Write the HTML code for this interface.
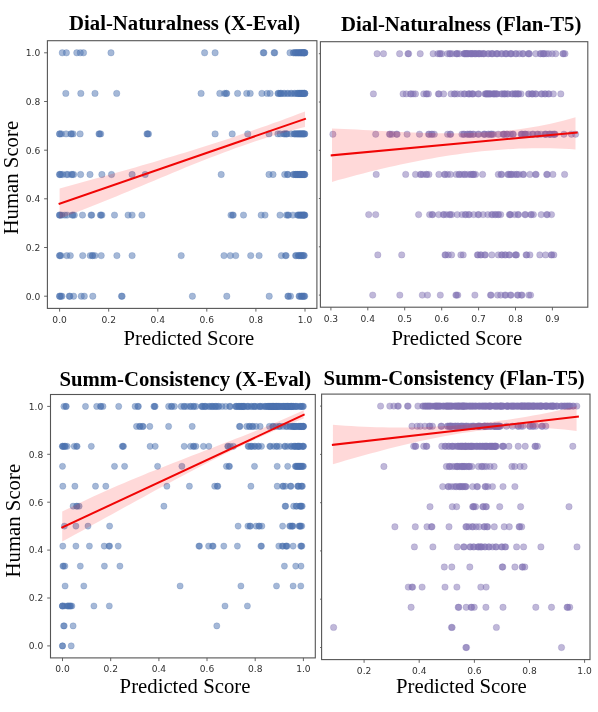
<!DOCTYPE html>
<html><head><meta charset="utf-8"><title>Scatter plots</title>
<style>html,body{margin:0;padding:0;background:#fff}svg{display:block}.t{font-family:"Liberation Serif",serif;font-weight:bold;font-size:20.75px;fill:#000}.l{font-family:"Liberation Serif",serif;font-size:20.75px;fill:#000}.k{font-family:"DejaVu Sans","Liberation Sans",sans-serif;font-size:9.1px;fill:#303030}</style></head>
<body>
<svg width="598" height="712" viewBox="0 0 598 712">
<rect width="598" height="712" fill="#fff"/>
<g>
<g fill="#4c72b0" fill-opacity="0.5" stroke="#4c72b0" stroke-opacity="0.5" stroke-width="0.5">
<circle cx="59.6" cy="296.2" r="3.20"/><circle cx="59.8" cy="296.2" r="3.20"/><circle cx="60.9" cy="296.2" r="3.20"/><circle cx="61.9" cy="296.2" r="3.20"/><circle cx="69.3" cy="296.2" r="3.20"/><circle cx="69.9" cy="296.2" r="3.20"/><circle cx="73.6" cy="296.2" r="3.20"/><circle cx="81.3" cy="296.2" r="3.20"/><circle cx="84.3" cy="296.2" r="3.20"/><circle cx="92.8" cy="296.2" r="3.20"/><circle cx="121.5" cy="296.2" r="3.20"/><circle cx="122.1" cy="296.2" r="3.20"/><circle cx="192.4" cy="296.2" r="3.20"/><circle cx="226.8" cy="296.2" r="3.20"/><circle cx="269.2" cy="296.2" r="3.20"/><circle cx="287.9" cy="296.2" r="3.20"/><circle cx="288.5" cy="296.2" r="3.20"/><circle cx="290.5" cy="296.2" r="3.20"/><circle cx="299.1" cy="296.2" r="3.20"/><circle cx="299.7" cy="296.2" r="3.20"/><circle cx="301.2" cy="296.2" r="3.20"/><circle cx="301.8" cy="296.2" r="3.20"/><circle cx="302.4" cy="296.2" r="3.20"/><circle cx="303.5" cy="296.2" r="3.20"/><circle cx="304.1" cy="296.2" r="3.20"/><circle cx="304.7" cy="296.2" r="3.20"/>
<circle cx="59.6" cy="255.6" r="3.20"/><circle cx="59.8" cy="255.6" r="3.20"/><circle cx="60.9" cy="255.6" r="3.20"/><circle cx="66.8" cy="255.6" r="3.20"/><circle cx="70.3" cy="255.6" r="3.20"/><circle cx="82.7" cy="255.6" r="3.20"/><circle cx="90.2" cy="255.6" r="3.20"/><circle cx="92.2" cy="255.6" r="3.20"/><circle cx="92.8" cy="255.6" r="3.20"/><circle cx="94.9" cy="255.6" r="3.20"/><circle cx="101.2" cy="255.6" r="3.20"/><circle cx="116.9" cy="255.6" r="3.20"/><circle cx="132.1" cy="255.6" r="3.20"/><circle cx="181.2" cy="255.6" r="3.20"/><circle cx="224.0" cy="255.6" r="3.20"/><circle cx="230.3" cy="255.6" r="3.20"/><circle cx="235.7" cy="255.6" r="3.20"/><circle cx="250.7" cy="255.6" r="3.20"/><circle cx="259.1" cy="255.6" r="3.20"/><circle cx="281.4" cy="255.6" r="3.20"/><circle cx="285.5" cy="255.6" r="3.20"/><circle cx="286.1" cy="255.6" r="3.20"/><circle cx="295.6" cy="255.6" r="3.20"/><circle cx="296.2" cy="255.6" r="3.20"/><circle cx="298.3" cy="255.6" r="3.20"/><circle cx="298.9" cy="255.6" r="3.20"/><circle cx="299.5" cy="255.6" r="3.20"/><circle cx="300.7" cy="255.6" r="3.20"/><circle cx="301.3" cy="255.6" r="3.20"/><circle cx="301.9" cy="255.6" r="3.20"/><circle cx="303.0" cy="255.6" r="3.20"/><circle cx="303.6" cy="255.6" r="3.20"/><circle cx="304.2" cy="255.6" r="3.20"/>
<circle cx="59.6" cy="215.1" r="3.20"/><circle cx="59.6" cy="215.1" r="3.20"/><circle cx="60.5" cy="215.1" r="3.20"/><circle cx="61.9" cy="215.1" r="3.20"/><circle cx="64.9" cy="215.1" r="3.20"/><circle cx="67.2" cy="215.1" r="3.20"/><circle cx="72.3" cy="215.1" r="3.20"/><circle cx="72.9" cy="215.1" r="3.20"/><circle cx="74.3" cy="215.1" r="3.20"/><circle cx="82.5" cy="215.1" r="3.20"/><circle cx="91.1" cy="215.1" r="3.20"/><circle cx="91.7" cy="215.1" r="3.20"/><circle cx="100.4" cy="215.1" r="3.20"/><circle cx="101.0" cy="215.1" r="3.20"/><circle cx="101.9" cy="215.1" r="3.20"/><circle cx="114.5" cy="215.1" r="3.20"/><circle cx="128.1" cy="215.1" r="3.20"/><circle cx="132.1" cy="215.1" r="3.20"/><circle cx="141.9" cy="215.1" r="3.20"/><circle cx="231.0" cy="215.1" r="3.20"/><circle cx="232.6" cy="215.1" r="3.20"/><circle cx="233.2" cy="215.1" r="3.20"/><circle cx="243.5" cy="215.1" r="3.20"/><circle cx="261.2" cy="215.1" r="3.20"/><circle cx="265.0" cy="215.1" r="3.20"/><circle cx="280.0" cy="215.1" r="3.20"/><circle cx="286.5" cy="215.1" r="3.20"/><circle cx="287.9" cy="215.1" r="3.20"/><circle cx="288.5" cy="215.1" r="3.20"/><circle cx="292.9" cy="215.1" r="3.20"/><circle cx="297.6" cy="215.1" r="3.20"/><circle cx="298.2" cy="215.1" r="3.20"/><circle cx="298.8" cy="215.1" r="3.20"/><circle cx="299.7" cy="215.1" r="3.20"/><circle cx="300.3" cy="215.1" r="3.20"/><circle cx="300.9" cy="215.1" r="3.20"/><circle cx="301.5" cy="215.1" r="3.20"/><circle cx="302.0" cy="215.1" r="3.20"/><circle cx="302.6" cy="215.1" r="3.20"/><circle cx="303.2" cy="215.1" r="3.20"/><circle cx="303.8" cy="215.1" r="3.20"/><circle cx="304.0" cy="215.1" r="3.20"/><circle cx="304.6" cy="215.1" r="3.20"/><circle cx="304.8" cy="215.1" r="3.20"/>
<circle cx="59.6" cy="174.5" r="3.20"/><circle cx="59.8" cy="174.5" r="3.20"/><circle cx="60.9" cy="174.5" r="3.20"/><circle cx="62.6" cy="174.5" r="3.20"/><circle cx="66.5" cy="174.5" r="3.20"/><circle cx="67.9" cy="174.5" r="3.20"/><circle cx="71.6" cy="174.5" r="3.20"/><circle cx="72.2" cy="174.5" r="3.20"/><circle cx="73.6" cy="174.5" r="3.20"/><circle cx="80.6" cy="174.5" r="3.20"/><circle cx="90.0" cy="174.5" r="3.20"/><circle cx="101.9" cy="174.5" r="3.20"/><circle cx="111.5" cy="174.5" r="3.20"/><circle cx="132.1" cy="174.5" r="3.20"/><circle cx="145.2" cy="174.5" r="3.20"/><circle cx="221.2" cy="174.5" r="3.20"/><circle cx="269.0" cy="174.5" r="3.20"/><circle cx="273.0" cy="174.5" r="3.20"/><circle cx="284.7" cy="174.5" r="3.20"/><circle cx="287.4" cy="174.5" r="3.20"/><circle cx="288.0" cy="174.5" r="3.20"/><circle cx="293.3" cy="174.5" r="3.20"/><circle cx="293.9" cy="174.5" r="3.20"/><circle cx="295.3" cy="174.5" r="3.20"/><circle cx="295.9" cy="174.5" r="3.20"/><circle cx="296.5" cy="174.5" r="3.20"/><circle cx="297.3" cy="174.5" r="3.20"/><circle cx="297.9" cy="174.5" r="3.20"/><circle cx="298.5" cy="174.5" r="3.20"/><circle cx="299.1" cy="174.5" r="3.20"/><circle cx="299.7" cy="174.5" r="3.20"/><circle cx="300.3" cy="174.5" r="3.20"/><circle cx="300.9" cy="174.5" r="3.20"/><circle cx="301.5" cy="174.5" r="3.20"/><circle cx="302.0" cy="174.5" r="3.20"/><circle cx="302.6" cy="174.5" r="3.20"/><circle cx="303.2" cy="174.5" r="3.20"/><circle cx="303.8" cy="174.5" r="3.20"/><circle cx="304.0" cy="174.5" r="3.20"/><circle cx="304.6" cy="174.5" r="3.20"/><circle cx="304.8" cy="174.5" r="3.20"/>
<circle cx="59.6" cy="133.9" r="3.20"/><circle cx="59.8" cy="133.9" r="3.20"/><circle cx="61.4" cy="133.9" r="3.20"/><circle cx="66.1" cy="133.9" r="3.20"/><circle cx="70.9" cy="133.9" r="3.20"/><circle cx="71.5" cy="133.9" r="3.20"/><circle cx="73.1" cy="133.9" r="3.20"/><circle cx="80.1" cy="133.9" r="3.20"/><circle cx="99.0" cy="133.9" r="3.20"/><circle cx="99.6" cy="133.9" r="3.20"/><circle cx="100.7" cy="133.9" r="3.20"/><circle cx="147.0" cy="133.9" r="3.20"/><circle cx="147.6" cy="133.9" r="3.20"/><circle cx="148.5" cy="133.9" r="3.20"/><circle cx="215.1" cy="133.9" r="3.20"/><circle cx="232.2" cy="133.9" r="3.20"/><circle cx="247.7" cy="133.9" r="3.20"/><circle cx="269.0" cy="133.9" r="3.20"/><circle cx="277.9" cy="133.9" r="3.20"/><circle cx="280.2" cy="133.9" r="3.20"/><circle cx="283.9" cy="133.9" r="3.20"/><circle cx="284.5" cy="133.9" r="3.20"/><circle cx="285.9" cy="133.9" r="3.20"/><circle cx="286.5" cy="133.9" r="3.20"/><circle cx="287.1" cy="133.9" r="3.20"/><circle cx="291.2" cy="133.9" r="3.20"/><circle cx="294.1" cy="133.9" r="3.20"/><circle cx="294.7" cy="133.9" r="3.20"/><circle cx="295.3" cy="133.9" r="3.20"/><circle cx="296.5" cy="133.9" r="3.20"/><circle cx="297.1" cy="133.9" r="3.20"/><circle cx="297.7" cy="133.9" r="3.20"/><circle cx="298.5" cy="133.9" r="3.20"/><circle cx="299.1" cy="133.9" r="3.20"/><circle cx="299.7" cy="133.9" r="3.20"/><circle cx="300.3" cy="133.9" r="3.20"/><circle cx="300.9" cy="133.9" r="3.20"/><circle cx="301.5" cy="133.9" r="3.20"/><circle cx="302.1" cy="133.9" r="3.20"/><circle cx="302.7" cy="133.9" r="3.20"/><circle cx="303.2" cy="133.9" r="3.20"/><circle cx="303.8" cy="133.9" r="3.20"/><circle cx="304.4" cy="133.9" r="3.20"/><circle cx="304.8" cy="133.9" r="3.20"/>
<circle cx="65.8" cy="93.4" r="3.20"/><circle cx="80.8" cy="93.4" r="3.20"/><circle cx="95.0" cy="93.4" r="3.20"/><circle cx="116.7" cy="93.4" r="3.20"/><circle cx="201.1" cy="93.4" r="3.20"/><circle cx="219.8" cy="93.4" r="3.20"/><circle cx="224.5" cy="93.4" r="3.20"/><circle cx="226.1" cy="93.4" r="3.20"/><circle cx="226.7" cy="93.4" r="3.20"/><circle cx="237.6" cy="93.4" r="3.20"/><circle cx="246.7" cy="93.4" r="3.20"/><circle cx="250.2" cy="93.4" r="3.20"/><circle cx="261.9" cy="93.4" r="3.20"/><circle cx="267.1" cy="93.4" r="3.20"/><circle cx="270.1" cy="93.4" r="3.20"/><circle cx="278.0" cy="93.4" r="3.20"/><circle cx="278.6" cy="93.4" r="3.20"/><circle cx="280.1" cy="93.4" r="3.20"/><circle cx="280.7" cy="93.4" r="3.20"/><circle cx="281.3" cy="93.4" r="3.20"/><circle cx="283.9" cy="93.4" r="3.20"/><circle cx="284.5" cy="93.4" r="3.20"/><circle cx="287.4" cy="93.4" r="3.20"/><circle cx="288.0" cy="93.4" r="3.20"/><circle cx="290.9" cy="93.4" r="3.20"/><circle cx="291.5" cy="93.4" r="3.20"/><circle cx="294.4" cy="93.4" r="3.20"/><circle cx="295.0" cy="93.4" r="3.20"/><circle cx="297.2" cy="93.4" r="3.20"/><circle cx="297.8" cy="93.4" r="3.20"/><circle cx="298.4" cy="93.4" r="3.20"/><circle cx="299.2" cy="93.4" r="3.20"/><circle cx="299.8" cy="93.4" r="3.20"/><circle cx="300.4" cy="93.4" r="3.20"/><circle cx="301.0" cy="93.4" r="3.20"/><circle cx="301.6" cy="93.4" r="3.20"/><circle cx="302.2" cy="93.4" r="3.20"/><circle cx="302.8" cy="93.4" r="3.20"/><circle cx="303.4" cy="93.4" r="3.20"/><circle cx="303.9" cy="93.4" r="3.20"/><circle cx="304.5" cy="93.4" r="3.20"/><circle cx="304.8" cy="93.4" r="3.20"/><circle cx="304.8" cy="93.4" r="3.20"/>
<circle cx="62.3" cy="52.8" r="3.20"/><circle cx="66.4" cy="52.8" r="3.20"/><circle cx="76.8" cy="52.8" r="3.20"/><circle cx="80.3" cy="52.8" r="3.20"/><circle cx="83.5" cy="52.8" r="3.20"/><circle cx="111.0" cy="52.8" r="3.20"/><circle cx="204.6" cy="52.8" r="3.20"/><circle cx="215.1" cy="52.8" r="3.20"/><circle cx="263.3" cy="52.8" r="3.20"/><circle cx="263.9" cy="52.8" r="3.20"/><circle cx="274.1" cy="52.8" r="3.20"/><circle cx="274.7" cy="52.8" r="3.20"/><circle cx="290.0" cy="52.8" r="3.20"/><circle cx="293.3" cy="52.8" r="3.20"/><circle cx="293.9" cy="52.8" r="3.20"/><circle cx="295.3" cy="52.8" r="3.20"/><circle cx="295.9" cy="52.8" r="3.20"/><circle cx="296.5" cy="52.8" r="3.20"/><circle cx="297.6" cy="52.8" r="3.20"/><circle cx="298.2" cy="52.8" r="3.20"/><circle cx="298.8" cy="52.8" r="3.20"/><circle cx="299.7" cy="52.8" r="3.20"/><circle cx="300.3" cy="52.8" r="3.20"/><circle cx="300.9" cy="52.8" r="3.20"/><circle cx="301.5" cy="52.8" r="3.20"/><circle cx="302.0" cy="52.8" r="3.20"/><circle cx="302.6" cy="52.8" r="3.20"/><circle cx="303.2" cy="52.8" r="3.20"/><circle cx="303.8" cy="52.8" r="3.20"/><circle cx="303.9" cy="52.8" r="3.20"/><circle cx="304.5" cy="52.8" r="3.20"/><circle cx="304.8" cy="52.8" r="3.20"/><circle cx="304.8" cy="52.8" r="3.20"/>
</g>
<polygon fill="#ff0000" fill-opacity="0.15" points="59.6,188.4 65.9,186.7 72.2,185.0 78.5,183.2 84.8,181.5 91.1,179.8 97.4,178.0 103.6,176.3 109.9,174.5 116.2,172.7 122.5,170.9 128.8,169.2 135.1,167.4 141.4,165.5 147.7,163.7 154.0,161.9 160.3,160.0 166.6,158.1 172.9,156.2 179.2,154.3 185.4,152.4 191.7,150.5 198.0,148.5 204.3,146.5 210.6,144.5 216.9,142.5 223.2,140.4 229.5,138.4 235.8,136.3 242.1,134.1 248.4,132.0 254.7,129.8 261.0,127.6 267.2,125.4 273.5,123.1 279.8,120.9 286.1,118.5 292.4,116.2 298.7,113.8 305.0,111.4 305.0,127.1 298.7,128.6 292.4,130.2 286.1,131.9 279.8,133.7 273.5,135.6 267.2,137.5 261.0,139.5 254.7,141.6 248.4,143.7 242.1,145.9 235.8,148.1 229.5,150.4 223.2,152.8 216.9,155.2 210.6,157.6 204.3,160.1 198.0,162.6 191.7,165.1 185.4,167.6 179.2,170.2 172.9,172.8 166.6,175.4 160.3,178.0 154.0,180.7 147.7,183.3 141.4,185.9 135.1,188.5 128.8,191.2 122.5,193.8 116.2,196.4 109.9,199.0 103.6,201.5 97.4,204.0 91.1,206.5 84.8,209.0 78.5,211.4 72.2,213.8 65.9,216.2 59.6,218.5"/>
<line x1="59.6" y1="203.7" x2="305.0" y2="118.9" stroke="#f00505" stroke-width="2" stroke-linecap="square"/>
<rect x="47.4" y="40.7" width="269.5" height="267.7" fill="none" stroke="#555555" stroke-width="1.1"/>
<g stroke="#555555" stroke-width="0.9">
<line x1="59.6" y1="308.4" x2="59.6" y2="311.6"/><line x1="108.7" y1="308.4" x2="108.7" y2="311.6"/><line x1="157.8" y1="308.4" x2="157.8" y2="311.6"/><line x1="206.8" y1="308.4" x2="206.8" y2="311.6"/><line x1="255.9" y1="308.4" x2="255.9" y2="311.6"/><line x1="305.0" y1="308.4" x2="305.0" y2="311.6"/><line x1="44.1" y1="296.2" x2="47.4" y2="296.2"/><line x1="44.1" y1="247.5" x2="47.4" y2="247.5"/><line x1="44.1" y1="198.8" x2="47.4" y2="198.8"/><line x1="44.1" y1="150.2" x2="47.4" y2="150.2"/><line x1="44.1" y1="101.5" x2="47.4" y2="101.5"/><line x1="44.1" y1="52.8" x2="47.4" y2="52.8"/>
</g>
<g class="k" text-anchor="middle">
<text x="59.6" y="322.8">0.0</text><text x="108.7" y="322.8">0.2</text><text x="157.8" y="322.8">0.4</text><text x="206.8" y="322.8">0.6</text><text x="255.9" y="322.8">0.8</text><text x="305.0" y="322.8">1.0</text>
</g>
<g class="k" text-anchor="end">
<text x="40.2" y="299.5">0.0</text><text x="40.2" y="250.8">0.2</text><text x="40.2" y="202.1">0.4</text><text x="40.2" y="153.5">0.6</text><text x="40.2" y="104.8">0.8</text><text x="40.2" y="56.1">1.0</text>
</g>
<text class="t" x="69.0" y="30.1">Dial-Naturalness (X-Eval)</text>
<text class="l" x="123.5" y="345.2">Predicted Score</text>
</g>
<text class="l" transform="translate(18.3,234.4) rotate(-90)">Human Score</text>
<g>
<g fill="#8172b3" fill-opacity="0.5" stroke="#8172b3" stroke-opacity="0.5" stroke-width="0.5">
<circle cx="372.7" cy="295.1" r="3.20"/><circle cx="399.8" cy="295.1" r="3.20"/><circle cx="422.3" cy="295.1" r="3.20"/><circle cx="427.5" cy="295.1" r="3.20"/><circle cx="440.3" cy="295.1" r="3.20"/><circle cx="455.9" cy="295.1" r="3.20"/><circle cx="456.5" cy="295.1" r="3.20"/><circle cx="457.8" cy="295.1" r="3.20"/><circle cx="474.9" cy="295.1" r="3.20"/><circle cx="490.5" cy="295.1" r="3.20"/><circle cx="491.1" cy="295.1" r="3.20"/><circle cx="497.6" cy="295.1" r="3.20"/><circle cx="500.7" cy="295.1" r="3.20"/><circle cx="505.0" cy="295.1" r="3.20"/><circle cx="505.6" cy="295.1" r="3.20"/><circle cx="510.4" cy="295.1" r="3.20"/><circle cx="511.0" cy="295.1" r="3.20"/><circle cx="517.4" cy="295.1" r="3.20"/><circle cx="518.0" cy="295.1" r="3.20"/><circle cx="521.4" cy="295.1" r="3.20"/><circle cx="522.0" cy="295.1" r="3.20"/><circle cx="528.8" cy="295.1" r="3.20"/><circle cx="530.6" cy="295.1" r="3.20"/>
<circle cx="377.8" cy="254.9" r="3.20"/><circle cx="401.7" cy="254.9" r="3.20"/><circle cx="445.0" cy="254.9" r="3.20"/><circle cx="445.6" cy="254.9" r="3.20"/><circle cx="448.3" cy="254.9" r="3.20"/><circle cx="451.6" cy="254.9" r="3.20"/><circle cx="460.9" cy="254.9" r="3.20"/><circle cx="463.2" cy="254.9" r="3.20"/><circle cx="477.4" cy="254.9" r="3.20"/><circle cx="478.0" cy="254.9" r="3.20"/><circle cx="480.5" cy="254.9" r="3.20"/><circle cx="481.1" cy="254.9" r="3.20"/><circle cx="484.7" cy="254.9" r="3.20"/><circle cx="485.3" cy="254.9" r="3.20"/><circle cx="491.8" cy="254.9" r="3.20"/><circle cx="498.3" cy="254.9" r="3.20"/><circle cx="501.5" cy="254.9" r="3.20"/><circle cx="502.1" cy="254.9" r="3.20"/><circle cx="505.0" cy="254.9" r="3.20"/><circle cx="505.6" cy="254.9" r="3.20"/><circle cx="509.0" cy="254.9" r="3.20"/><circle cx="509.6" cy="254.9" r="3.20"/><circle cx="515.3" cy="254.9" r="3.20"/><circle cx="515.9" cy="254.9" r="3.20"/><circle cx="516.5" cy="254.9" r="3.20"/><circle cx="526.1" cy="254.9" r="3.20"/><circle cx="526.7" cy="254.9" r="3.20"/><circle cx="529.9" cy="254.9" r="3.20"/><circle cx="539.8" cy="254.9" r="3.20"/><circle cx="545.6" cy="254.9" r="3.20"/><circle cx="551.2" cy="254.9" r="3.20"/><circle cx="551.8" cy="254.9" r="3.20"/><circle cx="553.8" cy="254.9" r="3.20"/>
<circle cx="368.7" cy="214.6" r="3.20"/><circle cx="375.7" cy="214.6" r="3.20"/><circle cx="418.6" cy="214.6" r="3.20"/><circle cx="429.6" cy="214.6" r="3.20"/><circle cx="432.1" cy="214.6" r="3.20"/><circle cx="432.7" cy="214.6" r="3.20"/><circle cx="438.7" cy="214.6" r="3.20"/><circle cx="443.3" cy="214.6" r="3.20"/><circle cx="443.9" cy="214.6" r="3.20"/><circle cx="446.4" cy="214.6" r="3.20"/><circle cx="449.6" cy="214.6" r="3.20"/><circle cx="450.2" cy="214.6" r="3.20"/><circle cx="451.8" cy="214.6" r="3.20"/><circle cx="457.3" cy="214.6" r="3.20"/><circle cx="462.0" cy="214.6" r="3.20"/><circle cx="465.2" cy="214.6" r="3.20"/><circle cx="465.8" cy="214.6" r="3.20"/><circle cx="468.7" cy="214.6" r="3.20"/><circle cx="469.3" cy="214.6" r="3.20"/><circle cx="473.7" cy="214.6" r="3.20"/><circle cx="478.1" cy="214.6" r="3.20"/><circle cx="478.7" cy="214.6" r="3.20"/><circle cx="483.1" cy="214.6" r="3.20"/><circle cx="487.8" cy="214.6" r="3.20"/><circle cx="491.7" cy="214.6" r="3.20"/><circle cx="492.3" cy="214.6" r="3.20"/><circle cx="495.0" cy="214.6" r="3.20"/><circle cx="495.6" cy="214.6" r="3.20"/><circle cx="498.0" cy="214.6" r="3.20"/><circle cx="498.6" cy="214.6" r="3.20"/><circle cx="500.7" cy="214.6" r="3.20"/><circle cx="509.4" cy="214.6" r="3.20"/><circle cx="510.0" cy="214.6" r="3.20"/><circle cx="510.6" cy="214.6" r="3.20"/><circle cx="514.7" cy="214.6" r="3.20"/><circle cx="517.9" cy="214.6" r="3.20"/><circle cx="518.5" cy="214.6" r="3.20"/><circle cx="524.9" cy="214.6" r="3.20"/><circle cx="525.5" cy="214.6" r="3.20"/><circle cx="530.8" cy="214.6" r="3.20"/><circle cx="531.4" cy="214.6" r="3.20"/><circle cx="533.4" cy="214.6" r="3.20"/><circle cx="541.2" cy="214.6" r="3.20"/><circle cx="546.7" cy="214.6" r="3.20"/><circle cx="547.3" cy="214.6" r="3.20"/><circle cx="551.5" cy="214.6" r="3.20"/>
<circle cx="376.2" cy="174.4" r="3.20"/><circle cx="405.7" cy="174.4" r="3.20"/><circle cx="415.5" cy="174.4" r="3.20"/><circle cx="420.4" cy="174.4" r="3.20"/><circle cx="421.0" cy="174.4" r="3.20"/><circle cx="423.0" cy="174.4" r="3.20"/><circle cx="426.2" cy="174.4" r="3.20"/><circle cx="426.8" cy="174.4" r="3.20"/><circle cx="428.9" cy="174.4" r="3.20"/><circle cx="438.9" cy="174.4" r="3.20"/><circle cx="444.5" cy="174.4" r="3.20"/><circle cx="445.1" cy="174.4" r="3.20"/><circle cx="447.6" cy="174.4" r="3.20"/><circle cx="450.4" cy="174.4" r="3.20"/><circle cx="456.2" cy="174.4" r="3.20"/><circle cx="458.9" cy="174.4" r="3.20"/><circle cx="459.5" cy="174.4" r="3.20"/><circle cx="462.0" cy="174.4" r="3.20"/><circle cx="464.5" cy="174.4" r="3.20"/><circle cx="465.1" cy="174.4" r="3.20"/><circle cx="467.9" cy="174.4" r="3.20"/><circle cx="470.6" cy="174.4" r="3.20"/><circle cx="471.2" cy="174.4" r="3.20"/><circle cx="472.7" cy="174.4" r="3.20"/><circle cx="473.3" cy="174.4" r="3.20"/><circle cx="473.9" cy="174.4" r="3.20"/><circle cx="475.6" cy="174.4" r="3.20"/><circle cx="482.6" cy="174.4" r="3.20"/><circle cx="498.3" cy="174.4" r="3.20"/><circle cx="501.1" cy="174.4" r="3.20"/><circle cx="501.7" cy="174.4" r="3.20"/><circle cx="507.9" cy="174.4" r="3.20"/><circle cx="508.5" cy="174.4" r="3.20"/><circle cx="510.0" cy="174.4" r="3.20"/><circle cx="511.1" cy="174.4" r="3.20"/><circle cx="511.7" cy="174.4" r="3.20"/><circle cx="514.0" cy="174.4" r="3.20"/><circle cx="516.4" cy="174.4" r="3.20"/><circle cx="517.0" cy="174.4" r="3.20"/><circle cx="519.1" cy="174.4" r="3.20"/><circle cx="523.0" cy="174.4" r="3.20"/><circle cx="523.6" cy="174.4" r="3.20"/><circle cx="529.9" cy="174.4" r="3.20"/><circle cx="535.5" cy="174.4" r="3.20"/><circle cx="536.1" cy="174.4" r="3.20"/><circle cx="546.7" cy="174.4" r="3.20"/><circle cx="547.3" cy="174.4" r="3.20"/><circle cx="552.9" cy="174.4" r="3.20"/><circle cx="564.6" cy="174.4" r="3.20"/>
<circle cx="332.9" cy="134.2" r="3.20"/><circle cx="375.7" cy="134.2" r="3.20"/><circle cx="389.5" cy="134.2" r="3.20"/><circle cx="390.1" cy="134.2" r="3.20"/><circle cx="392.1" cy="134.2" r="3.20"/><circle cx="396.5" cy="134.2" r="3.20"/><circle cx="397.1" cy="134.2" r="3.20"/><circle cx="407.1" cy="134.2" r="3.20"/><circle cx="419.5" cy="134.2" r="3.20"/><circle cx="428.6" cy="134.2" r="3.20"/><circle cx="429.2" cy="134.2" r="3.20"/><circle cx="431.6" cy="134.2" r="3.20"/><circle cx="432.2" cy="134.2" r="3.20"/><circle cx="434.3" cy="134.2" r="3.20"/><circle cx="447.6" cy="134.2" r="3.20"/><circle cx="450.1" cy="134.2" r="3.20"/><circle cx="450.7" cy="134.2" r="3.20"/><circle cx="462.0" cy="134.2" r="3.20"/><circle cx="463.6" cy="134.2" r="3.20"/><circle cx="464.2" cy="134.2" r="3.20"/><circle cx="467.2" cy="134.2" r="3.20"/><circle cx="467.8" cy="134.2" r="3.20"/><circle cx="469.5" cy="134.2" r="3.20"/><circle cx="470.1" cy="134.2" r="3.20"/><circle cx="470.7" cy="134.2" r="3.20"/><circle cx="473.0" cy="134.2" r="3.20"/><circle cx="473.6" cy="134.2" r="3.20"/><circle cx="478.1" cy="134.2" r="3.20"/><circle cx="478.7" cy="134.2" r="3.20"/><circle cx="483.8" cy="134.2" r="3.20"/><circle cx="484.4" cy="134.2" r="3.20"/><circle cx="485.0" cy="134.2" r="3.20"/><circle cx="488.2" cy="134.2" r="3.20"/><circle cx="488.8" cy="134.2" r="3.20"/><circle cx="490.7" cy="134.2" r="3.20"/><circle cx="491.3" cy="134.2" r="3.20"/><circle cx="491.9" cy="134.2" r="3.20"/><circle cx="493.3" cy="134.2" r="3.20"/><circle cx="498.3" cy="134.2" r="3.20"/><circle cx="503.1" cy="134.2" r="3.20"/><circle cx="503.7" cy="134.2" r="3.20"/><circle cx="504.3" cy="134.2" r="3.20"/><circle cx="506.7" cy="134.2" r="3.20"/><circle cx="507.3" cy="134.2" r="3.20"/><circle cx="510.4" cy="134.2" r="3.20"/><circle cx="512.7" cy="134.2" r="3.20"/><circle cx="513.3" cy="134.2" r="3.20"/><circle cx="521.1" cy="134.2" r="3.20"/><circle cx="521.7" cy="134.2" r="3.20"/><circle cx="522.3" cy="134.2" r="3.20"/><circle cx="524.6" cy="134.2" r="3.20"/><circle cx="525.2" cy="134.2" r="3.20"/><circle cx="525.8" cy="134.2" r="3.20"/><circle cx="528.3" cy="134.2" r="3.20"/><circle cx="532.5" cy="134.2" r="3.20"/><circle cx="533.1" cy="134.2" r="3.20"/><circle cx="537.3" cy="134.2" r="3.20"/><circle cx="537.9" cy="134.2" r="3.20"/><circle cx="540.8" cy="134.2" r="3.20"/><circle cx="544.9" cy="134.2" r="3.20"/><circle cx="545.5" cy="134.2" r="3.20"/><circle cx="546.1" cy="134.2" r="3.20"/><circle cx="549.2" cy="134.2" r="3.20"/><circle cx="549.8" cy="134.2" r="3.20"/><circle cx="550.4" cy="134.2" r="3.20"/><circle cx="552.2" cy="134.2" r="3.20"/><circle cx="553.9" cy="134.2" r="3.20"/><circle cx="554.5" cy="134.2" r="3.20"/><circle cx="555.1" cy="134.2" r="3.20"/><circle cx="563.9" cy="134.2" r="3.20"/><circle cx="571.4" cy="134.2" r="3.20"/><circle cx="575.6" cy="134.2" r="3.20"/>
<circle cx="373.4" cy="93.9" r="3.20"/><circle cx="403.1" cy="93.9" r="3.20"/><circle cx="406.2" cy="93.9" r="3.20"/><circle cx="410.5" cy="93.9" r="3.20"/><circle cx="411.1" cy="93.9" r="3.20"/><circle cx="413.2" cy="93.9" r="3.20"/><circle cx="415.5" cy="93.9" r="3.20"/><circle cx="423.7" cy="93.9" r="3.20"/><circle cx="426.2" cy="93.9" r="3.20"/><circle cx="426.8" cy="93.9" r="3.20"/><circle cx="428.4" cy="93.9" r="3.20"/><circle cx="438.4" cy="93.9" r="3.20"/><circle cx="439.0" cy="93.9" r="3.20"/><circle cx="443.6" cy="93.9" r="3.20"/><circle cx="451.1" cy="93.9" r="3.20"/><circle cx="454.3" cy="93.9" r="3.20"/><circle cx="454.9" cy="93.9" r="3.20"/><circle cx="457.3" cy="93.9" r="3.20"/><circle cx="460.9" cy="93.9" r="3.20"/><circle cx="464.1" cy="93.9" r="3.20"/><circle cx="464.7" cy="93.9" r="3.20"/><circle cx="468.4" cy="93.9" r="3.20"/><circle cx="469.0" cy="93.9" r="3.20"/><circle cx="469.6" cy="93.9" r="3.20"/><circle cx="472.0" cy="93.9" r="3.20"/><circle cx="472.6" cy="93.9" r="3.20"/><circle cx="473.2" cy="93.9" r="3.20"/><circle cx="478.1" cy="93.9" r="3.20"/><circle cx="478.7" cy="93.9" r="3.20"/><circle cx="485.1" cy="93.9" r="3.20"/><circle cx="485.7" cy="93.9" r="3.20"/><circle cx="486.3" cy="93.9" r="3.20"/><circle cx="486.9" cy="93.9" r="3.20"/><circle cx="487.5" cy="93.9" r="3.20"/><circle cx="488.1" cy="93.9" r="3.20"/><circle cx="488.7" cy="93.9" r="3.20"/><circle cx="489.6" cy="93.9" r="3.20"/><circle cx="490.2" cy="93.9" r="3.20"/><circle cx="490.8" cy="93.9" r="3.20"/><circle cx="493.0" cy="93.9" r="3.20"/><circle cx="493.6" cy="93.9" r="3.20"/><circle cx="494.2" cy="93.9" r="3.20"/><circle cx="494.8" cy="93.9" r="3.20"/><circle cx="496.0" cy="93.9" r="3.20"/><circle cx="496.6" cy="93.9" r="3.20"/><circle cx="497.2" cy="93.9" r="3.20"/><circle cx="501.5" cy="93.9" r="3.20"/><circle cx="502.1" cy="93.9" r="3.20"/><circle cx="504.0" cy="93.9" r="3.20"/><circle cx="504.6" cy="93.9" r="3.20"/><circle cx="505.2" cy="93.9" r="3.20"/><circle cx="507.4" cy="93.9" r="3.20"/><circle cx="508.0" cy="93.9" r="3.20"/><circle cx="512.1" cy="93.9" r="3.20"/><circle cx="512.7" cy="93.9" r="3.20"/><circle cx="514.8" cy="93.9" r="3.20"/><circle cx="515.4" cy="93.9" r="3.20"/><circle cx="516.0" cy="93.9" r="3.20"/><circle cx="517.6" cy="93.9" r="3.20"/><circle cx="518.2" cy="93.9" r="3.20"/><circle cx="518.8" cy="93.9" r="3.20"/><circle cx="521.0" cy="93.9" r="3.20"/><circle cx="528.5" cy="93.9" r="3.20"/><circle cx="529.1" cy="93.9" r="3.20"/><circle cx="531.7" cy="93.9" r="3.20"/><circle cx="532.3" cy="93.9" r="3.20"/><circle cx="532.9" cy="93.9" r="3.20"/><circle cx="535.5" cy="93.9" r="3.20"/><circle cx="536.1" cy="93.9" r="3.20"/><circle cx="541.3" cy="93.9" r="3.20"/><circle cx="541.9" cy="93.9" r="3.20"/><circle cx="544.8" cy="93.9" r="3.20"/><circle cx="545.4" cy="93.9" r="3.20"/><circle cx="548.4" cy="93.9" r="3.20"/><circle cx="549.0" cy="93.9" r="3.20"/><circle cx="553.3" cy="93.9" r="3.20"/><circle cx="560.8" cy="93.9" r="3.20"/>
<circle cx="377.1" cy="53.7" r="3.20"/><circle cx="383.5" cy="53.7" r="3.20"/><circle cx="399.6" cy="53.7" r="3.20"/><circle cx="408.0" cy="53.7" r="3.20"/><circle cx="408.6" cy="53.7" r="3.20"/><circle cx="420.2" cy="53.7" r="3.20"/><circle cx="433.1" cy="53.7" r="3.20"/><circle cx="437.8" cy="53.7" r="3.20"/><circle cx="439.6" cy="53.7" r="3.20"/><circle cx="440.2" cy="53.7" r="3.20"/><circle cx="441.8" cy="53.7" r="3.20"/><circle cx="447.6" cy="53.7" r="3.20"/><circle cx="449.6" cy="53.7" r="3.20"/><circle cx="450.2" cy="53.7" r="3.20"/><circle cx="452.3" cy="53.7" r="3.20"/><circle cx="456.2" cy="53.7" r="3.20"/><circle cx="456.8" cy="53.7" r="3.20"/><circle cx="457.4" cy="53.7" r="3.20"/><circle cx="459.3" cy="53.7" r="3.20"/><circle cx="463.9" cy="53.7" r="3.20"/><circle cx="464.5" cy="53.7" r="3.20"/><circle cx="464.9" cy="53.7" r="3.20"/><circle cx="465.5" cy="53.7" r="3.20"/><circle cx="466.1" cy="53.7" r="3.20"/><circle cx="466.7" cy="53.7" r="3.20"/><circle cx="467.4" cy="53.7" r="3.20"/><circle cx="468.0" cy="53.7" r="3.20"/><circle cx="468.6" cy="53.7" r="3.20"/><circle cx="470.5" cy="53.7" r="3.20"/><circle cx="470.9" cy="53.7" r="3.20"/><circle cx="471.5" cy="53.7" r="3.20"/><circle cx="472.1" cy="53.7" r="3.20"/><circle cx="472.7" cy="53.7" r="3.20"/><circle cx="474.4" cy="53.7" r="3.20"/><circle cx="475.0" cy="53.7" r="3.20"/><circle cx="475.6" cy="53.7" r="3.20"/><circle cx="476.2" cy="53.7" r="3.20"/><circle cx="478.1" cy="53.7" r="3.20"/><circle cx="478.7" cy="53.7" r="3.20"/><circle cx="479.3" cy="53.7" r="3.20"/><circle cx="479.9" cy="53.7" r="3.20"/><circle cx="481.5" cy="53.7" r="3.20"/><circle cx="483.1" cy="53.7" r="3.20"/><circle cx="483.7" cy="53.7" r="3.20"/><circle cx="484.3" cy="53.7" r="3.20"/><circle cx="488.0" cy="53.7" r="3.20"/><circle cx="488.6" cy="53.7" r="3.20"/><circle cx="491.5" cy="53.7" r="3.20"/><circle cx="492.1" cy="53.7" r="3.20"/><circle cx="492.7" cy="53.7" r="3.20"/><circle cx="496.4" cy="53.7" r="3.20"/><circle cx="497.0" cy="53.7" r="3.20"/><circle cx="497.6" cy="53.7" r="3.20"/><circle cx="501.4" cy="53.7" r="3.20"/><circle cx="502.0" cy="53.7" r="3.20"/><circle cx="505.4" cy="53.7" r="3.20"/><circle cx="506.0" cy="53.7" r="3.20"/><circle cx="506.6" cy="53.7" r="3.20"/><circle cx="510.3" cy="53.7" r="3.20"/><circle cx="510.9" cy="53.7" r="3.20"/><circle cx="511.5" cy="53.7" r="3.20"/><circle cx="515.6" cy="53.7" r="3.20"/><circle cx="516.2" cy="53.7" r="3.20"/><circle cx="519.4" cy="53.7" r="3.20"/><circle cx="522.6" cy="53.7" r="3.20"/><circle cx="523.2" cy="53.7" r="3.20"/><circle cx="528.2" cy="53.7" r="3.20"/><circle cx="528.8" cy="53.7" r="3.20"/><circle cx="529.4" cy="53.7" r="3.20"/><circle cx="535.8" cy="53.7" r="3.20"/><circle cx="540.2" cy="53.7" r="3.20"/><circle cx="540.8" cy="53.7" r="3.20"/><circle cx="542.9" cy="53.7" r="3.20"/><circle cx="543.5" cy="53.7" r="3.20"/><circle cx="544.1" cy="53.7" r="3.20"/><circle cx="546.3" cy="53.7" r="3.20"/><circle cx="548.7" cy="53.7" r="3.20"/><circle cx="552.2" cy="53.7" r="3.20"/><circle cx="555.7" cy="53.7" r="3.20"/><circle cx="562.9" cy="53.7" r="3.20"/><circle cx="563.5" cy="53.7" r="3.20"/><circle cx="565.0" cy="53.7" r="3.20"/>
</g>
<polygon fill="#ff0000" fill-opacity="0.15" points="332.0,128.5 338.2,128.7 344.5,129.0 350.7,129.3 357.0,129.6 363.2,130.0 369.5,130.3 375.7,130.7 381.9,131.0 388.2,131.3 394.4,131.6 400.7,131.9 406.9,132.2 413.2,132.5 419.4,132.7 425.7,132.9 431.9,133.1 438.1,133.2 444.4,133.3 450.6,133.3 456.9,133.3 463.1,133.2 469.4,133.0 475.6,132.8 481.8,132.5 488.1,132.2 494.3,131.8 500.6,131.2 506.8,130.6 513.1,130.0 519.3,129.2 525.6,128.3 531.8,127.3 538.0,126.2 544.3,125.0 550.5,123.7 556.8,122.2 563.0,120.7 569.3,119.0 575.5,117.2 575.5,149.5 569.3,149.1 563.0,148.7 556.8,148.5 550.5,148.3 544.3,148.2 538.0,148.2 531.8,148.3 525.6,148.4 519.3,148.6 513.1,148.9 506.8,149.3 500.6,149.7 494.3,150.2 488.1,150.7 481.8,151.3 475.6,152.0 469.4,152.7 463.1,153.5 456.9,154.4 450.6,155.3 444.4,156.3 438.1,157.3 431.9,158.4 425.7,159.5 419.4,160.7 413.2,161.9 406.9,163.2 400.7,164.5 394.4,165.9 388.2,167.3 381.9,168.8 375.7,170.3 369.5,171.8 363.2,173.4 357.0,175.0 350.7,176.7 344.5,178.4 338.2,180.1 332.0,181.9"/>
<line x1="331.7" y1="155.3" x2="576.7" y2="132.6" stroke="#f00505" stroke-width="2" stroke-linecap="square"/>
<rect x="320.4" y="41.7" width="267.4" height="265.5" fill="none" stroke="#555555" stroke-width="1.1"/>
<g stroke="#555555" stroke-width="0.9">
<line x1="330.9" y1="307.2" x2="330.9" y2="310.4"/><line x1="367.8" y1="307.2" x2="367.8" y2="310.4"/><line x1="404.7" y1="307.2" x2="404.7" y2="310.4"/><line x1="441.7" y1="307.2" x2="441.7" y2="310.4"/><line x1="478.6" y1="307.2" x2="478.6" y2="310.4"/><line x1="515.5" y1="307.2" x2="515.5" y2="310.4"/><line x1="552.4" y1="307.2" x2="552.4" y2="310.4"/><line x1="318.9" y1="295.1" x2="320.4" y2="295.1"/><line x1="318.9" y1="246.8" x2="320.4" y2="246.8"/><line x1="318.9" y1="198.5" x2="320.4" y2="198.5"/><line x1="318.9" y1="150.3" x2="320.4" y2="150.3"/><line x1="318.9" y1="102.0" x2="320.4" y2="102.0"/><line x1="318.9" y1="53.7" x2="320.4" y2="53.7"/>
</g>
<g class="k" text-anchor="middle">
<text x="330.9" y="321.6">0.3</text><text x="367.8" y="321.6">0.4</text><text x="404.7" y="321.6">0.5</text><text x="441.7" y="321.6">0.6</text><text x="478.6" y="321.6">0.7</text><text x="515.5" y="321.6">0.8</text><text x="552.4" y="321.6">0.9</text>
</g>
<text class="t" x="341.0" y="31.1">Dial-Naturalness (Flan-T5)</text>
<text class="l" x="391.4" y="344.7">Predicted Score</text>
</g>
<g>
<g fill="#4c72b0" fill-opacity="0.5" stroke="#4c72b0" stroke-opacity="0.5" stroke-width="0.5">
<circle cx="62.4" cy="645.9" r="3.10"/><circle cx="62.6" cy="645.9" r="3.10"/><circle cx="71.2" cy="645.9" r="3.10"/>
<circle cx="63.6" cy="625.9" r="3.10"/><circle cx="64.2" cy="625.9" r="3.10"/><circle cx="73.1" cy="625.9" r="3.10"/><circle cx="216.8" cy="625.9" r="3.10"/>
<circle cx="62.4" cy="606.0" r="3.10"/><circle cx="62.4" cy="606.0" r="3.10"/><circle cx="62.6" cy="606.0" r="3.10"/><circle cx="64.4" cy="606.0" r="3.10"/><circle cx="67.3" cy="606.0" r="3.10"/><circle cx="67.9" cy="606.0" r="3.10"/><circle cx="68.5" cy="606.0" r="3.10"/><circle cx="69.6" cy="606.0" r="3.10"/><circle cx="70.2" cy="606.0" r="3.10"/><circle cx="70.8" cy="606.0" r="3.10"/><circle cx="71.9" cy="606.0" r="3.10"/><circle cx="93.9" cy="606.0" r="3.10"/><circle cx="109.3" cy="606.0" r="3.10"/><circle cx="225.0" cy="606.0" r="3.10"/><circle cx="247.4" cy="606.0" r="3.10"/>
<circle cx="65.1" cy="586.0" r="3.10"/><circle cx="83.8" cy="586.0" r="3.10"/><circle cx="180.1" cy="586.0" r="3.10"/><circle cx="240.9" cy="586.0" r="3.10"/><circle cx="276.5" cy="586.0" r="3.10"/><circle cx="293.1" cy="586.0" r="3.10"/><circle cx="300.8" cy="586.0" r="3.10"/>
<circle cx="62.9" cy="566.1" r="3.10"/><circle cx="63.5" cy="566.1" r="3.10"/><circle cx="64.9" cy="566.1" r="3.10"/><circle cx="80.3" cy="566.1" r="3.10"/><circle cx="104.4" cy="566.1" r="3.10"/><circle cx="119.9" cy="566.1" r="3.10"/><circle cx="284.4" cy="566.1" r="3.10"/><circle cx="295.7" cy="566.1" r="3.10"/><circle cx="301.0" cy="566.1" r="3.10"/>
<circle cx="62.8" cy="546.1" r="3.10"/><circle cx="75.9" cy="546.1" r="3.10"/><circle cx="89.4" cy="546.1" r="3.10"/><circle cx="104.2" cy="546.1" r="3.10"/><circle cx="109.0" cy="546.1" r="3.10"/><circle cx="109.6" cy="546.1" r="3.10"/><circle cx="118.2" cy="546.1" r="3.10"/><circle cx="198.9" cy="546.1" r="3.10"/><circle cx="199.5" cy="546.1" r="3.10"/><circle cx="208.6" cy="546.1" r="3.10"/><circle cx="212.5" cy="546.1" r="3.10"/><circle cx="213.1" cy="546.1" r="3.10"/><circle cx="223.8" cy="546.1" r="3.10"/><circle cx="237.4" cy="546.1" r="3.10"/><circle cx="260.9" cy="546.1" r="3.10"/><circle cx="261.5" cy="546.1" r="3.10"/><circle cx="278.8" cy="546.1" r="3.10"/><circle cx="282.3" cy="546.1" r="3.10"/><circle cx="282.9" cy="546.1" r="3.10"/><circle cx="285.9" cy="546.1" r="3.10"/><circle cx="286.5" cy="546.1" r="3.10"/><circle cx="287.1" cy="546.1" r="3.10"/><circle cx="293.1" cy="546.1" r="3.10"/><circle cx="300.7" cy="546.1" r="3.10"/><circle cx="301.3" cy="546.1" r="3.10"/><circle cx="301.9" cy="546.1" r="3.10"/>
<circle cx="64.4" cy="526.1" r="3.10"/><circle cx="75.9" cy="526.1" r="3.10"/><circle cx="88.0" cy="526.1" r="3.10"/><circle cx="109.6" cy="526.1" r="3.10"/><circle cx="238.1" cy="526.1" r="3.10"/><circle cx="247.9" cy="526.1" r="3.10"/><circle cx="249.9" cy="526.1" r="3.10"/><circle cx="250.5" cy="526.1" r="3.10"/><circle cx="256.1" cy="526.1" r="3.10"/><circle cx="258.8" cy="526.1" r="3.10"/><circle cx="259.4" cy="526.1" r="3.10"/><circle cx="261.9" cy="526.1" r="3.10"/><circle cx="282.6" cy="526.1" r="3.10"/><circle cx="289.7" cy="526.1" r="3.10"/><circle cx="290.3" cy="526.1" r="3.10"/><circle cx="291.8" cy="526.1" r="3.10"/><circle cx="292.4" cy="526.1" r="3.10"/><circle cx="293.0" cy="526.1" r="3.10"/><circle cx="299.0" cy="526.1" r="3.10"/><circle cx="299.6" cy="526.1" r="3.10"/><circle cx="300.2" cy="526.1" r="3.10"/><circle cx="300.8" cy="526.1" r="3.10"/><circle cx="301.8" cy="526.1" r="3.10"/>
<circle cx="73.1" cy="506.2" r="3.10"/><circle cx="76.5" cy="506.2" r="3.10"/><circle cx="77.1" cy="506.2" r="3.10"/><circle cx="79.1" cy="506.2" r="3.10"/><circle cx="163.9" cy="506.2" r="3.10"/><circle cx="285.1" cy="506.2" r="3.10"/><circle cx="285.7" cy="506.2" r="3.10"/><circle cx="293.6" cy="506.2" r="3.10"/><circle cx="296.1" cy="506.2" r="3.10"/><circle cx="296.7" cy="506.2" r="3.10"/><circle cx="299.7" cy="506.2" r="3.10"/><circle cx="300.3" cy="506.2" r="3.10"/><circle cx="300.9" cy="506.2" r="3.10"/><circle cx="301.5" cy="506.2" r="3.10"/><circle cx="302.2" cy="506.2" r="3.10"/>
<circle cx="62.8" cy="486.2" r="3.10"/><circle cx="74.9" cy="486.2" r="3.10"/><circle cx="95.5" cy="486.2" r="3.10"/><circle cx="105.8" cy="486.2" r="3.10"/><circle cx="166.9" cy="486.2" r="3.10"/><circle cx="189.4" cy="486.2" r="3.10"/><circle cx="214.7" cy="486.2" r="3.10"/><circle cx="217.2" cy="486.2" r="3.10"/><circle cx="217.8" cy="486.2" r="3.10"/><circle cx="250.9" cy="486.2" r="3.10"/><circle cx="277.2" cy="486.2" r="3.10"/><circle cx="282.7" cy="486.2" r="3.10"/><circle cx="283.3" cy="486.2" r="3.10"/><circle cx="285.4" cy="486.2" r="3.10"/><circle cx="290.4" cy="486.2" r="3.10"/><circle cx="291.0" cy="486.2" r="3.10"/><circle cx="297.6" cy="486.2" r="3.10"/><circle cx="298.2" cy="486.2" r="3.10"/><circle cx="298.8" cy="486.2" r="3.10"/><circle cx="301.2" cy="486.2" r="3.10"/><circle cx="301.8" cy="486.2" r="3.10"/><circle cx="302.4" cy="486.2" r="3.10"/>
<circle cx="62.5" cy="466.3" r="3.10"/><circle cx="114.5" cy="466.3" r="3.10"/><circle cx="124.6" cy="466.3" r="3.10"/><circle cx="157.6" cy="466.3" r="3.10"/><circle cx="181.9" cy="466.3" r="3.10"/><circle cx="226.4" cy="466.3" r="3.10"/><circle cx="228.9" cy="466.3" r="3.10"/><circle cx="229.5" cy="466.3" r="3.10"/><circle cx="254.5" cy="466.3" r="3.10"/><circle cx="277.2" cy="466.3" r="3.10"/><circle cx="287.7" cy="466.3" r="3.10"/><circle cx="295.3" cy="466.3" r="3.10"/><circle cx="295.9" cy="466.3" r="3.10"/><circle cx="296.5" cy="466.3" r="3.10"/><circle cx="297.3" cy="466.3" r="3.10"/><circle cx="297.9" cy="466.3" r="3.10"/><circle cx="298.5" cy="466.3" r="3.10"/><circle cx="299.1" cy="466.3" r="3.10"/><circle cx="299.7" cy="466.3" r="3.10"/><circle cx="300.3" cy="466.3" r="3.10"/><circle cx="300.9" cy="466.3" r="3.10"/><circle cx="301.5" cy="466.3" r="3.10"/><circle cx="302.3" cy="466.3" r="3.10"/><circle cx="302.9" cy="466.3" r="3.10"/><circle cx="303.4" cy="466.3" r="3.10"/>
<circle cx="62.4" cy="446.3" r="3.10"/><circle cx="62.5" cy="446.3" r="3.10"/><circle cx="63.1" cy="446.3" r="3.10"/><circle cx="64.3" cy="446.3" r="3.10"/><circle cx="64.9" cy="446.3" r="3.10"/><circle cx="65.5" cy="446.3" r="3.10"/><circle cx="67.2" cy="446.3" r="3.10"/><circle cx="74.2" cy="446.3" r="3.10"/><circle cx="76.5" cy="446.3" r="3.10"/><circle cx="77.1" cy="446.3" r="3.10"/><circle cx="91.3" cy="446.3" r="3.10"/><circle cx="122.3" cy="446.3" r="3.10"/><circle cx="122.9" cy="446.3" r="3.10"/><circle cx="123.5" cy="446.3" r="3.10"/><circle cx="150.1" cy="446.3" r="3.10"/><circle cx="155.2" cy="446.3" r="3.10"/><circle cx="184.2" cy="446.3" r="3.10"/><circle cx="190.5" cy="446.3" r="3.10"/><circle cx="193.3" cy="446.3" r="3.10"/><circle cx="193.9" cy="446.3" r="3.10"/><circle cx="195.9" cy="446.3" r="3.10"/><circle cx="203.4" cy="446.3" r="3.10"/><circle cx="208.8" cy="446.3" r="3.10"/><circle cx="227.7" cy="446.3" r="3.10"/><circle cx="228.3" cy="446.3" r="3.10"/><circle cx="230.3" cy="446.3" r="3.10"/><circle cx="233.4" cy="446.3" r="3.10"/><circle cx="248.1" cy="446.3" r="3.10"/><circle cx="248.7" cy="446.3" r="3.10"/><circle cx="250.8" cy="446.3" r="3.10"/><circle cx="251.4" cy="446.3" r="3.10"/><circle cx="252.0" cy="446.3" r="3.10"/><circle cx="254.6" cy="446.3" r="3.10"/><circle cx="255.2" cy="446.3" r="3.10"/><circle cx="258.1" cy="446.3" r="3.10"/><circle cx="258.7" cy="446.3" r="3.10"/><circle cx="261.5" cy="446.3" r="3.10"/><circle cx="269.8" cy="446.3" r="3.10"/><circle cx="270.4" cy="446.3" r="3.10"/><circle cx="273.7" cy="446.3" r="3.10"/><circle cx="276.4" cy="446.3" r="3.10"/><circle cx="277.0" cy="446.3" r="3.10"/><circle cx="279.5" cy="446.3" r="3.10"/><circle cx="284.6" cy="446.3" r="3.10"/><circle cx="285.2" cy="446.3" r="3.10"/><circle cx="287.7" cy="446.3" r="3.10"/><circle cx="290.9" cy="446.3" r="3.10"/><circle cx="291.5" cy="446.3" r="3.10"/><circle cx="293.8" cy="446.3" r="3.10"/><circle cx="294.4" cy="446.3" r="3.10"/><circle cx="295.0" cy="446.3" r="3.10"/><circle cx="295.6" cy="446.3" r="3.10"/><circle cx="297.1" cy="446.3" r="3.10"/><circle cx="297.7" cy="446.3" r="3.10"/><circle cx="298.3" cy="446.3" r="3.10"/><circle cx="298.4" cy="446.3" r="3.10"/><circle cx="299.0" cy="446.3" r="3.10"/><circle cx="299.6" cy="446.3" r="3.10"/><circle cx="300.2" cy="446.3" r="3.10"/><circle cx="302.2" cy="446.3" r="3.10"/><circle cx="302.8" cy="446.3" r="3.10"/><circle cx="303.4" cy="446.3" r="3.10"/><circle cx="303.4" cy="446.3" r="3.10"/>
<circle cx="136.5" cy="426.4" r="3.10"/><circle cx="139.5" cy="426.4" r="3.10"/><circle cx="140.1" cy="426.4" r="3.10"/><circle cx="142.5" cy="426.4" r="3.10"/><circle cx="143.1" cy="426.4" r="3.10"/><circle cx="149.8" cy="426.4" r="3.10"/><circle cx="168.6" cy="426.4" r="3.10"/><circle cx="192.2" cy="426.4" r="3.10"/><circle cx="239.4" cy="426.4" r="3.10"/><circle cx="240.0" cy="426.4" r="3.10"/><circle cx="246.7" cy="426.4" r="3.10"/><circle cx="249.2" cy="426.4" r="3.10"/><circle cx="249.8" cy="426.4" r="3.10"/><circle cx="252.3" cy="426.4" r="3.10"/><circle cx="252.9" cy="426.4" r="3.10"/><circle cx="256.1" cy="426.4" r="3.10"/><circle cx="260.1" cy="426.4" r="3.10"/><circle cx="269.4" cy="426.4" r="3.10"/><circle cx="272.7" cy="426.4" r="3.10"/><circle cx="273.3" cy="426.4" r="3.10"/><circle cx="276.0" cy="426.4" r="3.10"/><circle cx="279.2" cy="426.4" r="3.10"/><circle cx="279.8" cy="426.4" r="3.10"/><circle cx="283.0" cy="426.4" r="3.10"/><circle cx="286.2" cy="426.4" r="3.10"/><circle cx="286.8" cy="426.4" r="3.10"/><circle cx="289.7" cy="426.4" r="3.10"/><circle cx="290.3" cy="426.4" r="3.10"/><circle cx="292.2" cy="426.4" r="3.10"/><circle cx="292.8" cy="426.4" r="3.10"/><circle cx="293.4" cy="426.4" r="3.10"/><circle cx="294.0" cy="426.4" r="3.10"/><circle cx="294.6" cy="426.4" r="3.10"/><circle cx="294.8" cy="426.4" r="3.10"/><circle cx="295.4" cy="426.4" r="3.10"/><circle cx="296.0" cy="426.4" r="3.10"/><circle cx="296.6" cy="426.4" r="3.10"/><circle cx="298.1" cy="426.4" r="3.10"/><circle cx="298.7" cy="426.4" r="3.10"/><circle cx="299.3" cy="426.4" r="3.10"/><circle cx="299.9" cy="426.4" r="3.10"/><circle cx="300.5" cy="426.4" r="3.10"/><circle cx="300.7" cy="426.4" r="3.10"/><circle cx="301.3" cy="426.4" r="3.10"/><circle cx="301.9" cy="426.4" r="3.10"/><circle cx="302.5" cy="426.4" r="3.10"/><circle cx="302.8" cy="426.4" r="3.10"/><circle cx="303.4" cy="426.4" r="3.10"/><circle cx="303.4" cy="426.4" r="3.10"/><circle cx="303.4" cy="426.4" r="3.10"/>
<circle cx="63.9" cy="406.4" r="3.10"/><circle cx="65.7" cy="406.4" r="3.10"/><circle cx="66.3" cy="406.4" r="3.10"/><circle cx="85.5" cy="406.4" r="3.10"/><circle cx="96.7" cy="406.4" r="3.10"/><circle cx="100.4" cy="406.4" r="3.10"/><circle cx="101.0" cy="406.4" r="3.10"/><circle cx="103.0" cy="406.4" r="3.10"/><circle cx="118.7" cy="406.4" r="3.10"/><circle cx="135.1" cy="406.4" r="3.10"/><circle cx="137.8" cy="406.4" r="3.10"/><circle cx="138.4" cy="406.4" r="3.10"/><circle cx="153.9" cy="406.4" r="3.10"/><circle cx="154.5" cy="406.4" r="3.10"/><circle cx="155.1" cy="406.4" r="3.10"/><circle cx="168.6" cy="406.4" r="3.10"/><circle cx="171.3" cy="406.4" r="3.10"/><circle cx="171.9" cy="406.4" r="3.10"/><circle cx="174.4" cy="406.4" r="3.10"/><circle cx="181.2" cy="406.4" r="3.10"/><circle cx="183.9" cy="406.4" r="3.10"/><circle cx="184.5" cy="406.4" r="3.10"/><circle cx="187.0" cy="406.4" r="3.10"/><circle cx="190.2" cy="406.4" r="3.10"/><circle cx="190.8" cy="406.4" r="3.10"/><circle cx="193.3" cy="406.4" r="3.10"/><circle cx="193.9" cy="406.4" r="3.10"/><circle cx="195.9" cy="406.4" r="3.10"/><circle cx="201.6" cy="406.4" r="3.10"/><circle cx="202.2" cy="406.4" r="3.10"/><circle cx="202.8" cy="406.4" r="3.10"/><circle cx="204.7" cy="406.4" r="3.10"/><circle cx="205.3" cy="406.4" r="3.10"/><circle cx="205.9" cy="406.4" r="3.10"/><circle cx="209.0" cy="406.4" r="3.10"/><circle cx="209.6" cy="406.4" r="3.10"/><circle cx="211.7" cy="406.4" r="3.10"/><circle cx="212.3" cy="406.4" r="3.10"/><circle cx="212.9" cy="406.4" r="3.10"/><circle cx="215.0" cy="406.4" r="3.10"/><circle cx="215.6" cy="406.4" r="3.10"/><circle cx="216.2" cy="406.4" r="3.10"/><circle cx="218.3" cy="406.4" r="3.10"/><circle cx="218.9" cy="406.4" r="3.10"/><circle cx="222.1" cy="406.4" r="3.10"/><circle cx="225.7" cy="406.4" r="3.10"/><circle cx="229.6" cy="406.4" r="3.10"/><circle cx="230.2" cy="406.4" r="3.10"/><circle cx="235.5" cy="406.4" r="3.10"/><circle cx="236.1" cy="406.4" r="3.10"/><circle cx="236.7" cy="406.4" r="3.10"/><circle cx="238.4" cy="406.4" r="3.10"/><circle cx="239.0" cy="406.4" r="3.10"/><circle cx="239.6" cy="406.4" r="3.10"/><circle cx="240.2" cy="406.4" r="3.10"/><circle cx="241.3" cy="406.4" r="3.10"/><circle cx="241.9" cy="406.4" r="3.10"/><circle cx="242.5" cy="406.4" r="3.10"/><circle cx="243.1" cy="406.4" r="3.10"/><circle cx="243.4" cy="406.4" r="3.10"/><circle cx="244.0" cy="406.4" r="3.10"/><circle cx="244.6" cy="406.4" r="3.10"/><circle cx="247.2" cy="406.4" r="3.10"/><circle cx="247.8" cy="406.4" r="3.10"/><circle cx="248.4" cy="406.4" r="3.10"/><circle cx="251.1" cy="406.4" r="3.10"/><circle cx="251.7" cy="406.4" r="3.10"/><circle cx="253.9" cy="406.4" r="3.10"/><circle cx="254.5" cy="406.4" r="3.10"/><circle cx="255.1" cy="406.4" r="3.10"/><circle cx="257.3" cy="406.4" r="3.10"/><circle cx="259.5" cy="406.4" r="3.10"/><circle cx="260.1" cy="406.4" r="3.10"/><circle cx="260.7" cy="406.4" r="3.10"/><circle cx="262.4" cy="406.4" r="3.10"/><circle cx="264.8" cy="406.4" r="3.10"/><circle cx="265.4" cy="406.4" r="3.10"/><circle cx="266.0" cy="406.4" r="3.10"/><circle cx="267.5" cy="406.4" r="3.10"/><circle cx="268.1" cy="406.4" r="3.10"/><circle cx="268.7" cy="406.4" r="3.10"/><circle cx="269.1" cy="406.4" r="3.10"/><circle cx="269.7" cy="406.4" r="3.10"/><circle cx="270.3" cy="406.4" r="3.10"/><circle cx="270.9" cy="406.4" r="3.10"/><circle cx="271.1" cy="406.4" r="3.10"/><circle cx="271.7" cy="406.4" r="3.10"/><circle cx="272.3" cy="406.4" r="3.10"/><circle cx="272.9" cy="406.4" r="3.10"/><circle cx="273.5" cy="406.4" r="3.10"/><circle cx="272.7" cy="406.4" r="3.10"/><circle cx="273.3" cy="406.4" r="3.10"/><circle cx="273.9" cy="406.4" r="3.10"/><circle cx="274.5" cy="406.4" r="3.10"/><circle cx="275.1" cy="406.4" r="3.10"/><circle cx="275.0" cy="406.4" r="3.10"/><circle cx="275.6" cy="406.4" r="3.10"/><circle cx="276.2" cy="406.4" r="3.10"/><circle cx="276.8" cy="406.4" r="3.10"/><circle cx="276.5" cy="406.4" r="3.10"/><circle cx="277.1" cy="406.4" r="3.10"/><circle cx="277.7" cy="406.4" r="3.10"/><circle cx="278.3" cy="406.4" r="3.10"/><circle cx="278.7" cy="406.4" r="3.10"/><circle cx="279.3" cy="406.4" r="3.10"/><circle cx="279.9" cy="406.4" r="3.10"/><circle cx="280.5" cy="406.4" r="3.10"/><circle cx="281.8" cy="406.4" r="3.10"/><circle cx="282.4" cy="406.4" r="3.10"/><circle cx="283.0" cy="406.4" r="3.10"/><circle cx="283.6" cy="406.4" r="3.10"/><circle cx="283.8" cy="406.4" r="3.10"/><circle cx="284.4" cy="406.4" r="3.10"/><circle cx="285.0" cy="406.4" r="3.10"/><circle cx="285.6" cy="406.4" r="3.10"/><circle cx="286.3" cy="406.4" r="3.10"/><circle cx="286.9" cy="406.4" r="3.10"/><circle cx="287.5" cy="406.4" r="3.10"/><circle cx="288.1" cy="406.4" r="3.10"/><circle cx="287.3" cy="406.4" r="3.10"/><circle cx="287.9" cy="406.4" r="3.10"/><circle cx="288.5" cy="406.4" r="3.10"/><circle cx="289.1" cy="406.4" r="3.10"/><circle cx="290.2" cy="406.4" r="3.10"/><circle cx="290.8" cy="406.4" r="3.10"/><circle cx="291.4" cy="406.4" r="3.10"/><circle cx="292.0" cy="406.4" r="3.10"/><circle cx="291.3" cy="406.4" r="3.10"/><circle cx="291.9" cy="406.4" r="3.10"/><circle cx="292.5" cy="406.4" r="3.10"/><circle cx="293.1" cy="406.4" r="3.10"/><circle cx="293.7" cy="406.4" r="3.10"/><circle cx="295.3" cy="406.4" r="3.10"/><circle cx="295.9" cy="406.4" r="3.10"/><circle cx="296.5" cy="406.4" r="3.10"/><circle cx="297.1" cy="406.4" r="3.10"/><circle cx="299.8" cy="406.4" r="3.10"/><circle cx="300.4" cy="406.4" r="3.10"/><circle cx="301.0" cy="406.4" r="3.10"/><circle cx="302.2" cy="406.4" r="3.10"/><circle cx="302.8" cy="406.4" r="3.10"/><circle cx="303.4" cy="406.4" r="3.10"/>
</g>
<polygon fill="#ff0000" fill-opacity="0.15" points="62.2,511.6 68.4,508.5 74.6,505.4 80.8,502.4 87.0,499.5 93.2,496.6 99.4,493.8 105.5,491.0 111.7,488.2 117.9,485.5 124.1,482.9 130.3,480.3 136.5,477.7 142.7,475.2 148.9,472.6 155.1,470.2 161.3,467.7 167.5,465.3 173.7,462.8 179.9,460.4 186.0,458.0 192.2,455.6 198.4,453.2 204.6,450.8 210.8,448.4 217.0,446.0 223.2,443.6 229.4,441.2 235.6,438.8 241.8,436.4 248.0,433.9 254.2,431.4 260.4,428.9 266.5,426.4 272.7,423.8 278.9,421.2 285.1,418.5 291.3,415.8 297.5,413.1 303.7,410.3 303.7,418.6 297.5,421.1 291.3,423.6 285.1,426.1 278.9,428.8 272.7,431.5 266.5,434.2 260.4,437.0 254.2,439.9 248.0,442.8 241.8,445.7 235.6,448.7 229.4,451.7 223.2,454.8 217.0,457.9 210.8,461.1 204.6,464.2 198.4,467.4 192.2,470.7 186.0,473.9 179.9,477.2 173.7,480.5 167.5,483.9 161.3,487.2 155.1,490.6 148.9,494.0 142.7,497.4 136.5,500.8 130.3,504.2 124.1,507.6 117.9,511.0 111.7,514.4 105.5,517.8 99.4,521.2 93.2,524.6 87.0,528.0 80.8,531.4 74.6,534.8 68.4,538.2 62.2,541.5"/>
<line x1="62.3" y1="527.4" x2="303.7" y2="414.8" stroke="#f00505" stroke-width="2" stroke-linecap="square"/>
<rect x="50.5" y="394.5" width="264.8" height="263.4" fill="none" stroke="#555555" stroke-width="1.1"/>
<g stroke="#555555" stroke-width="0.9">
<line x1="62.5" y1="657.9" x2="62.5" y2="661.1"/><line x1="110.7" y1="657.9" x2="110.7" y2="661.1"/><line x1="158.9" y1="657.9" x2="158.9" y2="661.1"/><line x1="207.0" y1="657.9" x2="207.0" y2="661.1"/><line x1="255.2" y1="657.9" x2="255.2" y2="661.1"/><line x1="303.4" y1="657.9" x2="303.4" y2="661.1"/><line x1="47.2" y1="645.9" x2="50.5" y2="645.9"/><line x1="47.2" y1="598.0" x2="50.5" y2="598.0"/><line x1="47.2" y1="550.1" x2="50.5" y2="550.1"/><line x1="47.2" y1="502.2" x2="50.5" y2="502.2"/><line x1="47.2" y1="454.3" x2="50.5" y2="454.3"/><line x1="47.2" y1="406.4" x2="50.5" y2="406.4"/>
</g>
<g class="k" text-anchor="middle">
<text x="62.5" y="672.2">0.0</text><text x="110.7" y="672.2">0.2</text><text x="158.9" y="672.2">0.4</text><text x="207.0" y="672.2">0.6</text><text x="255.2" y="672.2">0.8</text><text x="303.4" y="672.2">1.0</text>
</g>
<g class="k" text-anchor="end">
<text x="43.3" y="649.2">0.0</text><text x="43.3" y="601.3">0.2</text><text x="43.3" y="553.4">0.4</text><text x="43.3" y="505.5">0.6</text><text x="43.3" y="457.6">0.8</text><text x="43.3" y="409.7">1.0</text>
</g>
<text class="t" x="59.4" y="385.5">Summ-Consistency (X-Eval)</text>
<text class="l" x="119.6" y="693.2">Predicted Score</text>
</g>
<text class="l" transform="translate(20.4,577.4) rotate(-90)">Human Score</text>
<g>
<g fill="#8172b3" fill-opacity="0.5" stroke="#8172b3" stroke-opacity="0.5" stroke-width="0.5">
<circle cx="465.9" cy="647.5" r="3.20"/><circle cx="466.5" cy="647.5" r="3.20"/><circle cx="561.5" cy="647.5" r="3.20"/>
<circle cx="333.6" cy="627.4" r="3.20"/><circle cx="451.5" cy="627.4" r="3.20"/><circle cx="452.1" cy="627.4" r="3.20"/><circle cx="496.4" cy="627.4" r="3.20"/>
<circle cx="411.1" cy="607.3" r="3.20"/><circle cx="458.2" cy="607.3" r="3.20"/><circle cx="458.8" cy="607.3" r="3.20"/><circle cx="466.2" cy="607.3" r="3.20"/><circle cx="471.1" cy="607.3" r="3.20"/><circle cx="471.7" cy="607.3" r="3.20"/><circle cx="474.2" cy="607.3" r="3.20"/><circle cx="485.9" cy="607.3" r="3.20"/><circle cx="503.0" cy="607.3" r="3.20"/><circle cx="535.8" cy="607.3" r="3.20"/><circle cx="551.5" cy="607.3" r="3.20"/><circle cx="567.1" cy="607.3" r="3.20"/><circle cx="567.7" cy="607.3" r="3.20"/><circle cx="569.7" cy="607.3" r="3.20"/>
<circle cx="408.3" cy="587.1" r="3.20"/><circle cx="412.0" cy="587.1" r="3.20"/><circle cx="412.6" cy="587.1" r="3.20"/><circle cx="422.1" cy="587.1" r="3.20"/><circle cx="445.0" cy="587.1" r="3.20"/><circle cx="456.9" cy="587.1" r="3.20"/><circle cx="480.8" cy="587.1" r="3.20"/><circle cx="486.1" cy="587.1" r="3.20"/>
<circle cx="444.3" cy="567.0" r="3.20"/><circle cx="451.8" cy="567.0" r="3.20"/><circle cx="469.8" cy="567.0" r="3.20"/><circle cx="502.2" cy="567.0" r="3.20"/><circle cx="502.8" cy="567.0" r="3.20"/><circle cx="514.9" cy="567.0" r="3.20"/><circle cx="522.1" cy="567.0" r="3.20"/><circle cx="522.7" cy="567.0" r="3.20"/><circle cx="524.8" cy="567.0" r="3.20"/>
<circle cx="414.4" cy="546.9" r="3.20"/><circle cx="432.9" cy="546.9" r="3.20"/><circle cx="457.3" cy="546.9" r="3.20"/><circle cx="463.6" cy="546.9" r="3.20"/><circle cx="464.2" cy="546.9" r="3.20"/><circle cx="469.9" cy="546.9" r="3.20"/><circle cx="470.5" cy="546.9" r="3.20"/><circle cx="473.4" cy="546.9" r="3.20"/><circle cx="474.0" cy="546.9" r="3.20"/><circle cx="477.8" cy="546.9" r="3.20"/><circle cx="478.4" cy="546.9" r="3.20"/><circle cx="479.0" cy="546.9" r="3.20"/><circle cx="480.6" cy="546.9" r="3.20"/><circle cx="481.2" cy="546.9" r="3.20"/><circle cx="481.8" cy="546.9" r="3.20"/><circle cx="484.7" cy="546.9" r="3.20"/><circle cx="485.3" cy="546.9" r="3.20"/><circle cx="488.6" cy="546.9" r="3.20"/><circle cx="489.2" cy="546.9" r="3.20"/><circle cx="492.5" cy="546.9" r="3.20"/><circle cx="495.7" cy="546.9" r="3.20"/><circle cx="496.3" cy="546.9" r="3.20"/><circle cx="501.5" cy="546.9" r="3.20"/><circle cx="502.1" cy="546.9" r="3.20"/><circle cx="505.0" cy="546.9" r="3.20"/><circle cx="505.6" cy="546.9" r="3.20"/><circle cx="516.6" cy="546.9" r="3.20"/><circle cx="523.6" cy="546.9" r="3.20"/><circle cx="540.9" cy="546.9" r="3.20"/><circle cx="577.0" cy="546.9" r="3.20"/>
<circle cx="394.9" cy="526.8" r="3.20"/><circle cx="415.3" cy="526.8" r="3.20"/><circle cx="427.0" cy="526.8" r="3.20"/><circle cx="431.4" cy="526.8" r="3.20"/><circle cx="432.0" cy="526.8" r="3.20"/><circle cx="449.0" cy="526.8" r="3.20"/><circle cx="465.9" cy="526.8" r="3.20"/><circle cx="466.5" cy="526.8" r="3.20"/><circle cx="469.0" cy="526.8" r="3.20"/><circle cx="472.3" cy="526.8" r="3.20"/><circle cx="472.9" cy="526.8" r="3.20"/><circle cx="476.1" cy="526.8" r="3.20"/><circle cx="479.1" cy="526.8" r="3.20"/><circle cx="484.0" cy="526.8" r="3.20"/><circle cx="484.6" cy="526.8" r="3.20"/><circle cx="487.0" cy="526.8" r="3.20"/><circle cx="487.6" cy="526.8" r="3.20"/><circle cx="494.3" cy="526.8" r="3.20"/><circle cx="504.2" cy="526.8" r="3.20"/><circle cx="509.3" cy="526.8" r="3.20"/><circle cx="519.1" cy="526.8" r="3.20"/><circle cx="519.7" cy="526.8" r="3.20"/><circle cx="521.7" cy="526.8" r="3.20"/>
<circle cx="430.0" cy="506.7" r="3.20"/><circle cx="452.3" cy="506.7" r="3.20"/><circle cx="456.6" cy="506.7" r="3.20"/><circle cx="472.7" cy="506.7" r="3.20"/><circle cx="473.3" cy="506.7" r="3.20"/><circle cx="473.9" cy="506.7" r="3.20"/><circle cx="475.6" cy="506.7" r="3.20"/><circle cx="482.8" cy="506.7" r="3.20"/><circle cx="483.4" cy="506.7" r="3.20"/><circle cx="485.8" cy="506.7" r="3.20"/><circle cx="486.4" cy="506.7" r="3.20"/><circle cx="499.7" cy="506.7" r="3.20"/><circle cx="520.6" cy="506.7" r="3.20"/><circle cx="569.0" cy="506.7" r="3.20"/>
<circle cx="442.7" cy="486.6" r="3.20"/><circle cx="448.0" cy="486.6" r="3.20"/><circle cx="448.6" cy="486.6" r="3.20"/><circle cx="451.1" cy="486.6" r="3.20"/><circle cx="453.9" cy="486.6" r="3.20"/><circle cx="455.9" cy="486.6" r="3.20"/><circle cx="456.5" cy="486.6" r="3.20"/><circle cx="459.1" cy="486.6" r="3.20"/><circle cx="459.7" cy="486.6" r="3.20"/><circle cx="460.3" cy="486.6" r="3.20"/><circle cx="461.9" cy="486.6" r="3.20"/><circle cx="462.5" cy="486.6" r="3.20"/><circle cx="463.1" cy="486.6" r="3.20"/><circle cx="464.9" cy="486.6" r="3.20"/><circle cx="465.5" cy="486.6" r="3.20"/><circle cx="466.1" cy="486.6" r="3.20"/><circle cx="472.6" cy="486.6" r="3.20"/><circle cx="476.9" cy="486.6" r="3.20"/><circle cx="477.5" cy="486.6" r="3.20"/><circle cx="485.1" cy="486.6" r="3.20"/><circle cx="485.7" cy="486.6" r="3.20"/><circle cx="487.8" cy="486.6" r="3.20"/><circle cx="492.5" cy="486.6" r="3.20"/><circle cx="503.0" cy="486.6" r="3.20"/><circle cx="514.9" cy="486.6" r="3.20"/>
<circle cx="383.9" cy="466.5" r="3.20"/><circle cx="446.4" cy="466.5" r="3.20"/><circle cx="449.2" cy="466.5" r="3.20"/><circle cx="449.8" cy="466.5" r="3.20"/><circle cx="452.3" cy="466.5" r="3.20"/><circle cx="455.0" cy="466.5" r="3.20"/><circle cx="456.7" cy="466.5" r="3.20"/><circle cx="457.3" cy="466.5" r="3.20"/><circle cx="457.9" cy="466.5" r="3.20"/><circle cx="459.7" cy="466.5" r="3.20"/><circle cx="461.4" cy="466.5" r="3.20"/><circle cx="462.0" cy="466.5" r="3.20"/><circle cx="462.6" cy="466.5" r="3.20"/><circle cx="463.8" cy="466.5" r="3.20"/><circle cx="464.4" cy="466.5" r="3.20"/><circle cx="465.0" cy="466.5" r="3.20"/><circle cx="466.7" cy="466.5" r="3.20"/><circle cx="468.4" cy="466.5" r="3.20"/><circle cx="469.0" cy="466.5" r="3.20"/><circle cx="469.6" cy="466.5" r="3.20"/><circle cx="471.9" cy="466.5" r="3.20"/><circle cx="478.4" cy="466.5" r="3.20"/><circle cx="481.6" cy="466.5" r="3.20"/><circle cx="482.2" cy="466.5" r="3.20"/><circle cx="484.3" cy="466.5" r="3.20"/><circle cx="486.6" cy="466.5" r="3.20"/><circle cx="490.1" cy="466.5" r="3.20"/><circle cx="494.1" cy="466.5" r="3.20"/><circle cx="511.9" cy="466.5" r="3.20"/><circle cx="514.7" cy="466.5" r="3.20"/><circle cx="520.1" cy="466.5" r="3.20"/><circle cx="524.1" cy="466.5" r="3.20"/>
<circle cx="413.7" cy="446.3" r="3.20"/><circle cx="415.2" cy="446.3" r="3.20"/><circle cx="415.8" cy="446.3" r="3.20"/><circle cx="423.7" cy="446.3" r="3.20"/><circle cx="426.2" cy="446.3" r="3.20"/><circle cx="426.8" cy="446.3" r="3.20"/><circle cx="441.8" cy="446.3" r="3.20"/><circle cx="445.0" cy="446.3" r="3.20"/><circle cx="445.6" cy="446.3" r="3.20"/><circle cx="448.5" cy="446.3" r="3.20"/><circle cx="449.1" cy="446.3" r="3.20"/><circle cx="451.8" cy="446.3" r="3.20"/><circle cx="452.4" cy="446.3" r="3.20"/><circle cx="453.0" cy="446.3" r="3.20"/><circle cx="455.2" cy="446.3" r="3.20"/><circle cx="457.4" cy="446.3" r="3.20"/><circle cx="458.0" cy="446.3" r="3.20"/><circle cx="458.6" cy="446.3" r="3.20"/><circle cx="459.9" cy="446.3" r="3.20"/><circle cx="460.5" cy="446.3" r="3.20"/><circle cx="461.1" cy="446.3" r="3.20"/><circle cx="461.7" cy="446.3" r="3.20"/><circle cx="462.1" cy="446.3" r="3.20"/><circle cx="462.7" cy="446.3" r="3.20"/><circle cx="463.3" cy="446.3" r="3.20"/><circle cx="464.7" cy="446.3" r="3.20"/><circle cx="465.3" cy="446.3" r="3.20"/><circle cx="465.9" cy="446.3" r="3.20"/><circle cx="465.1" cy="446.3" r="3.20"/><circle cx="465.7" cy="446.3" r="3.20"/><circle cx="466.3" cy="446.3" r="3.20"/><circle cx="467.7" cy="446.3" r="3.20"/><circle cx="468.3" cy="446.3" r="3.20"/><circle cx="468.9" cy="446.3" r="3.20"/><circle cx="470.0" cy="446.3" r="3.20"/><circle cx="470.6" cy="446.3" r="3.20"/><circle cx="471.2" cy="446.3" r="3.20"/><circle cx="471.4" cy="446.3" r="3.20"/><circle cx="472.0" cy="446.3" r="3.20"/><circle cx="472.6" cy="446.3" r="3.20"/><circle cx="473.2" cy="446.3" r="3.20"/><circle cx="475.0" cy="446.3" r="3.20"/><circle cx="476.3" cy="446.3" r="3.20"/><circle cx="476.9" cy="446.3" r="3.20"/><circle cx="477.5" cy="446.3" r="3.20"/><circle cx="479.3" cy="446.3" r="3.20"/><circle cx="479.9" cy="446.3" r="3.20"/><circle cx="480.5" cy="446.3" r="3.20"/><circle cx="482.0" cy="446.3" r="3.20"/><circle cx="482.6" cy="446.3" r="3.20"/><circle cx="483.2" cy="446.3" r="3.20"/><circle cx="484.6" cy="446.3" r="3.20"/><circle cx="485.2" cy="446.3" r="3.20"/><circle cx="485.8" cy="446.3" r="3.20"/><circle cx="486.1" cy="446.3" r="3.20"/><circle cx="486.7" cy="446.3" r="3.20"/><circle cx="487.3" cy="446.3" r="3.20"/><circle cx="489.2" cy="446.3" r="3.20"/><circle cx="489.8" cy="446.3" r="3.20"/><circle cx="490.4" cy="446.3" r="3.20"/><circle cx="491.1" cy="446.3" r="3.20"/><circle cx="491.7" cy="446.3" r="3.20"/><circle cx="492.3" cy="446.3" r="3.20"/><circle cx="492.9" cy="446.3" r="3.20"/><circle cx="494.0" cy="446.3" r="3.20"/><circle cx="494.6" cy="446.3" r="3.20"/><circle cx="495.2" cy="446.3" r="3.20"/><circle cx="495.1" cy="446.3" r="3.20"/><circle cx="495.7" cy="446.3" r="3.20"/><circle cx="496.3" cy="446.3" r="3.20"/><circle cx="502.4" cy="446.3" r="3.20"/><circle cx="503.0" cy="446.3" r="3.20"/><circle cx="503.6" cy="446.3" r="3.20"/><circle cx="508.9" cy="446.3" r="3.20"/><circle cx="518.2" cy="446.3" r="3.20"/><circle cx="525.2" cy="446.3" r="3.20"/><circle cx="535.0" cy="446.3" r="3.20"/><circle cx="535.6" cy="446.3" r="3.20"/><circle cx="537.4" cy="446.3" r="3.20"/><circle cx="572.8" cy="446.3" r="3.20"/>
<circle cx="412.0" cy="426.2" r="3.20"/><circle cx="417.2" cy="426.2" r="3.20"/><circle cx="420.2" cy="426.2" r="3.20"/><circle cx="424.9" cy="426.2" r="3.20"/><circle cx="429.3" cy="426.2" r="3.20"/><circle cx="429.9" cy="426.2" r="3.20"/><circle cx="432.4" cy="426.2" r="3.20"/><circle cx="441.0" cy="426.2" r="3.20"/><circle cx="441.6" cy="426.2" r="3.20"/><circle cx="447.3" cy="426.2" r="3.20"/><circle cx="447.9" cy="426.2" r="3.20"/><circle cx="449.2" cy="426.2" r="3.20"/><circle cx="449.8" cy="426.2" r="3.20"/><circle cx="450.4" cy="426.2" r="3.20"/><circle cx="450.5" cy="426.2" r="3.20"/><circle cx="451.1" cy="426.2" r="3.20"/><circle cx="451.7" cy="426.2" r="3.20"/><circle cx="452.9" cy="426.2" r="3.20"/><circle cx="454.7" cy="426.2" r="3.20"/><circle cx="455.3" cy="426.2" r="3.20"/><circle cx="455.9" cy="426.2" r="3.20"/><circle cx="457.3" cy="426.2" r="3.20"/><circle cx="457.9" cy="426.2" r="3.20"/><circle cx="458.5" cy="426.2" r="3.20"/><circle cx="460.7" cy="426.2" r="3.20"/><circle cx="461.3" cy="426.2" r="3.20"/><circle cx="461.9" cy="426.2" r="3.20"/><circle cx="462.5" cy="426.2" r="3.20"/><circle cx="463.7" cy="426.2" r="3.20"/><circle cx="465.7" cy="426.2" r="3.20"/><circle cx="466.3" cy="426.2" r="3.20"/><circle cx="466.9" cy="426.2" r="3.20"/><circle cx="468.5" cy="426.2" r="3.20"/><circle cx="470.9" cy="426.2" r="3.20"/><circle cx="472.3" cy="426.2" r="3.20"/><circle cx="473.0" cy="426.2" r="3.20"/><circle cx="473.6" cy="426.2" r="3.20"/><circle cx="474.2" cy="426.2" r="3.20"/><circle cx="477.5" cy="426.2" r="3.20"/><circle cx="478.1" cy="426.2" r="3.20"/><circle cx="478.7" cy="426.2" r="3.20"/><circle cx="478.8" cy="426.2" r="3.20"/><circle cx="479.4" cy="426.2" r="3.20"/><circle cx="480.0" cy="426.2" r="3.20"/><circle cx="480.6" cy="426.2" r="3.20"/><circle cx="483.6" cy="426.2" r="3.20"/><circle cx="484.2" cy="426.2" r="3.20"/><circle cx="484.8" cy="426.2" r="3.20"/><circle cx="484.4" cy="426.2" r="3.20"/><circle cx="485.0" cy="426.2" r="3.20"/><circle cx="485.6" cy="426.2" r="3.20"/><circle cx="486.9" cy="426.2" r="3.20"/><circle cx="487.5" cy="426.2" r="3.20"/><circle cx="488.1" cy="426.2" r="3.20"/><circle cx="490.1" cy="426.2" r="3.20"/><circle cx="490.7" cy="426.2" r="3.20"/><circle cx="491.3" cy="426.2" r="3.20"/><circle cx="493.7" cy="426.2" r="3.20"/><circle cx="494.3" cy="426.2" r="3.20"/><circle cx="494.9" cy="426.2" r="3.20"/><circle cx="494.9" cy="426.2" r="3.20"/><circle cx="495.5" cy="426.2" r="3.20"/><circle cx="496.1" cy="426.2" r="3.20"/><circle cx="496.7" cy="426.2" r="3.20"/><circle cx="497.3" cy="426.2" r="3.20"/><circle cx="497.9" cy="426.2" r="3.20"/><circle cx="498.5" cy="426.2" r="3.20"/><circle cx="498.5" cy="426.2" r="3.20"/><circle cx="499.1" cy="426.2" r="3.20"/><circle cx="499.7" cy="426.2" r="3.20"/><circle cx="500.3" cy="426.2" r="3.20"/><circle cx="506.5" cy="426.2" r="3.20"/><circle cx="512.4" cy="426.2" r="3.20"/><circle cx="517.9" cy="426.2" r="3.20"/><circle cx="518.5" cy="426.2" r="3.20"/><circle cx="521.0" cy="426.2" r="3.20"/><circle cx="522.9" cy="426.2" r="3.20"/><circle cx="529.6" cy="426.2" r="3.20"/><circle cx="530.2" cy="426.2" r="3.20"/><circle cx="532.7" cy="426.2" r="3.20"/><circle cx="533.3" cy="426.2" r="3.20"/><circle cx="535.8" cy="426.2" r="3.20"/><circle cx="541.8" cy="426.2" r="3.20"/><circle cx="542.4" cy="426.2" r="3.20"/><circle cx="545.8" cy="426.2" r="3.20"/>
<circle cx="380.6" cy="406.1" r="3.20"/><circle cx="389.8" cy="406.1" r="3.20"/><circle cx="393.8" cy="406.1" r="3.20"/><circle cx="397.7" cy="406.1" r="3.20"/><circle cx="398.3" cy="406.1" r="3.20"/><circle cx="407.5" cy="406.1" r="3.20"/><circle cx="408.1" cy="406.1" r="3.20"/><circle cx="417.9" cy="406.1" r="3.20"/><circle cx="422.7" cy="406.1" r="3.20"/><circle cx="423.3" cy="406.1" r="3.20"/><circle cx="424.8" cy="406.1" r="3.20"/><circle cx="425.4" cy="406.1" r="3.20"/><circle cx="426.0" cy="406.1" r="3.20"/><circle cx="427.1" cy="406.1" r="3.20"/><circle cx="427.7" cy="406.1" r="3.20"/><circle cx="428.3" cy="406.1" r="3.20"/><circle cx="429.4" cy="406.1" r="3.20"/><circle cx="430.0" cy="406.1" r="3.20"/><circle cx="430.6" cy="406.1" r="3.20"/><circle cx="432.4" cy="406.1" r="3.20"/><circle cx="434.5" cy="406.1" r="3.20"/><circle cx="435.1" cy="406.1" r="3.20"/><circle cx="435.7" cy="406.1" r="3.20"/><circle cx="436.3" cy="406.1" r="3.20"/><circle cx="436.5" cy="406.1" r="3.20"/><circle cx="437.1" cy="406.1" r="3.20"/><circle cx="437.7" cy="406.1" r="3.20"/><circle cx="438.3" cy="406.1" r="3.20"/><circle cx="438.9" cy="406.1" r="3.20"/><circle cx="439.5" cy="406.1" r="3.20"/><circle cx="440.1" cy="406.1" r="3.20"/><circle cx="440.7" cy="406.1" r="3.20"/><circle cx="442.8" cy="406.1" r="3.20"/><circle cx="443.4" cy="406.1" r="3.20"/><circle cx="444.0" cy="406.1" r="3.20"/><circle cx="445.6" cy="406.1" r="3.20"/><circle cx="446.2" cy="406.1" r="3.20"/><circle cx="446.8" cy="406.1" r="3.20"/><circle cx="446.7" cy="406.1" r="3.20"/><circle cx="447.3" cy="406.1" r="3.20"/><circle cx="447.9" cy="406.1" r="3.20"/><circle cx="448.5" cy="406.1" r="3.20"/><circle cx="448.7" cy="406.1" r="3.20"/><circle cx="449.3" cy="406.1" r="3.20"/><circle cx="449.9" cy="406.1" r="3.20"/><circle cx="450.5" cy="406.1" r="3.20"/><circle cx="450.8" cy="406.1" r="3.20"/><circle cx="451.4" cy="406.1" r="3.20"/><circle cx="452.0" cy="406.1" r="3.20"/><circle cx="452.6" cy="406.1" r="3.20"/><circle cx="454.3" cy="406.1" r="3.20"/><circle cx="454.9" cy="406.1" r="3.20"/><circle cx="455.5" cy="406.1" r="3.20"/><circle cx="456.1" cy="406.1" r="3.20"/><circle cx="456.6" cy="406.1" r="3.20"/><circle cx="457.2" cy="406.1" r="3.20"/><circle cx="457.8" cy="406.1" r="3.20"/><circle cx="458.4" cy="406.1" r="3.20"/><circle cx="458.2" cy="406.1" r="3.20"/><circle cx="458.8" cy="406.1" r="3.20"/><circle cx="459.4" cy="406.1" r="3.20"/><circle cx="459.9" cy="406.1" r="3.20"/><circle cx="460.5" cy="406.1" r="3.20"/><circle cx="461.1" cy="406.1" r="3.20"/><circle cx="461.7" cy="406.1" r="3.20"/><circle cx="462.3" cy="406.1" r="3.20"/><circle cx="462.3" cy="406.1" r="3.20"/><circle cx="462.9" cy="406.1" r="3.20"/><circle cx="463.5" cy="406.1" r="3.20"/><circle cx="464.1" cy="406.1" r="3.20"/><circle cx="463.1" cy="406.1" r="3.20"/><circle cx="463.7" cy="406.1" r="3.20"/><circle cx="464.3" cy="406.1" r="3.20"/><circle cx="464.9" cy="406.1" r="3.20"/><circle cx="465.5" cy="406.1" r="3.20"/><circle cx="466.1" cy="406.1" r="3.20"/><circle cx="466.7" cy="406.1" r="3.20"/><circle cx="467.3" cy="406.1" r="3.20"/><circle cx="468.8" cy="406.1" r="3.20"/><circle cx="469.4" cy="406.1" r="3.20"/><circle cx="470.0" cy="406.1" r="3.20"/><circle cx="470.6" cy="406.1" r="3.20"/><circle cx="471.6" cy="406.1" r="3.20"/><circle cx="472.2" cy="406.1" r="3.20"/><circle cx="472.8" cy="406.1" r="3.20"/><circle cx="473.4" cy="406.1" r="3.20"/><circle cx="474.7" cy="406.1" r="3.20"/><circle cx="475.3" cy="406.1" r="3.20"/><circle cx="475.9" cy="406.1" r="3.20"/><circle cx="476.5" cy="406.1" r="3.20"/><circle cx="478.4" cy="406.1" r="3.20"/><circle cx="479.0" cy="406.1" r="3.20"/><circle cx="479.6" cy="406.1" r="3.20"/><circle cx="480.2" cy="406.1" r="3.20"/><circle cx="481.7" cy="406.1" r="3.20"/><circle cx="482.3" cy="406.1" r="3.20"/><circle cx="482.9" cy="406.1" r="3.20"/><circle cx="483.5" cy="406.1" r="3.20"/><circle cx="484.4" cy="406.1" r="3.20"/><circle cx="485.0" cy="406.1" r="3.20"/><circle cx="485.6" cy="406.1" r="3.20"/><circle cx="486.2" cy="406.1" r="3.20"/><circle cx="486.8" cy="406.1" r="3.20"/><circle cx="488.3" cy="406.1" r="3.20"/><circle cx="488.9" cy="406.1" r="3.20"/><circle cx="489.5" cy="406.1" r="3.20"/><circle cx="490.1" cy="406.1" r="3.20"/><circle cx="489.7" cy="406.1" r="3.20"/><circle cx="490.3" cy="406.1" r="3.20"/><circle cx="490.9" cy="406.1" r="3.20"/><circle cx="491.5" cy="406.1" r="3.20"/><circle cx="494.0" cy="406.1" r="3.20"/><circle cx="494.6" cy="406.1" r="3.20"/><circle cx="495.2" cy="406.1" r="3.20"/><circle cx="495.8" cy="406.1" r="3.20"/><circle cx="496.4" cy="406.1" r="3.20"/><circle cx="497.0" cy="406.1" r="3.20"/><circle cx="497.6" cy="406.1" r="3.20"/><circle cx="498.2" cy="406.1" r="3.20"/><circle cx="499.8" cy="406.1" r="3.20"/><circle cx="500.4" cy="406.1" r="3.20"/><circle cx="501.0" cy="406.1" r="3.20"/><circle cx="500.2" cy="406.1" r="3.20"/><circle cx="500.8" cy="406.1" r="3.20"/><circle cx="501.4" cy="406.1" r="3.20"/><circle cx="502.0" cy="406.1" r="3.20"/><circle cx="502.4" cy="406.1" r="3.20"/><circle cx="503.0" cy="406.1" r="3.20"/><circle cx="503.6" cy="406.1" r="3.20"/><circle cx="506.2" cy="406.1" r="3.20"/><circle cx="506.8" cy="406.1" r="3.20"/><circle cx="507.4" cy="406.1" r="3.20"/><circle cx="506.9" cy="406.1" r="3.20"/><circle cx="507.5" cy="406.1" r="3.20"/><circle cx="508.1" cy="406.1" r="3.20"/><circle cx="508.7" cy="406.1" r="3.20"/><circle cx="510.4" cy="406.1" r="3.20"/><circle cx="511.0" cy="406.1" r="3.20"/><circle cx="511.6" cy="406.1" r="3.20"/><circle cx="512.2" cy="406.1" r="3.20"/><circle cx="512.8" cy="406.1" r="3.20"/><circle cx="513.1" cy="406.1" r="3.20"/><circle cx="513.7" cy="406.1" r="3.20"/><circle cx="514.3" cy="406.1" r="3.20"/><circle cx="514.9" cy="406.1" r="3.20"/><circle cx="516.3" cy="406.1" r="3.20"/><circle cx="516.9" cy="406.1" r="3.20"/><circle cx="517.5" cy="406.1" r="3.20"/><circle cx="518.1" cy="406.1" r="3.20"/><circle cx="518.7" cy="406.1" r="3.20"/><circle cx="520.1" cy="406.1" r="3.20"/><circle cx="520.7" cy="406.1" r="3.20"/><circle cx="521.3" cy="406.1" r="3.20"/><circle cx="521.9" cy="406.1" r="3.20"/><circle cx="521.1" cy="406.1" r="3.20"/><circle cx="521.7" cy="406.1" r="3.20"/><circle cx="522.3" cy="406.1" r="3.20"/><circle cx="522.9" cy="406.1" r="3.20"/><circle cx="523.0" cy="406.1" r="3.20"/><circle cx="523.6" cy="406.1" r="3.20"/><circle cx="524.2" cy="406.1" r="3.20"/><circle cx="524.8" cy="406.1" r="3.20"/><circle cx="524.4" cy="406.1" r="3.20"/><circle cx="525.0" cy="406.1" r="3.20"/><circle cx="525.6" cy="406.1" r="3.20"/><circle cx="526.2" cy="406.1" r="3.20"/><circle cx="526.7" cy="406.1" r="3.20"/><circle cx="527.3" cy="406.1" r="3.20"/><circle cx="527.9" cy="406.1" r="3.20"/><circle cx="528.5" cy="406.1" r="3.20"/><circle cx="527.9" cy="406.1" r="3.20"/><circle cx="528.5" cy="406.1" r="3.20"/><circle cx="529.1" cy="406.1" r="3.20"/><circle cx="529.7" cy="406.1" r="3.20"/><circle cx="529.8" cy="406.1" r="3.20"/><circle cx="530.4" cy="406.1" r="3.20"/><circle cx="531.0" cy="406.1" r="3.20"/><circle cx="531.6" cy="406.1" r="3.20"/><circle cx="532.1" cy="406.1" r="3.20"/><circle cx="532.7" cy="406.1" r="3.20"/><circle cx="533.3" cy="406.1" r="3.20"/><circle cx="533.9" cy="406.1" r="3.20"/><circle cx="533.1" cy="406.1" r="3.20"/><circle cx="533.7" cy="406.1" r="3.20"/><circle cx="534.3" cy="406.1" r="3.20"/><circle cx="534.9" cy="406.1" r="3.20"/><circle cx="536.1" cy="406.1" r="3.20"/><circle cx="536.7" cy="406.1" r="3.20"/><circle cx="537.3" cy="406.1" r="3.20"/><circle cx="537.9" cy="406.1" r="3.20"/><circle cx="538.5" cy="406.1" r="3.20"/><circle cx="539.4" cy="406.1" r="3.20"/><circle cx="540.0" cy="406.1" r="3.20"/><circle cx="540.6" cy="406.1" r="3.20"/><circle cx="541.2" cy="406.1" r="3.20"/><circle cx="540.5" cy="406.1" r="3.20"/><circle cx="541.1" cy="406.1" r="3.20"/><circle cx="541.7" cy="406.1" r="3.20"/><circle cx="542.3" cy="406.1" r="3.20"/><circle cx="544.5" cy="406.1" r="3.20"/><circle cx="545.1" cy="406.1" r="3.20"/><circle cx="545.7" cy="406.1" r="3.20"/><circle cx="546.3" cy="406.1" r="3.20"/><circle cx="545.9" cy="406.1" r="3.20"/><circle cx="546.5" cy="406.1" r="3.20"/><circle cx="547.1" cy="406.1" r="3.20"/><circle cx="547.7" cy="406.1" r="3.20"/><circle cx="549.6" cy="406.1" r="3.20"/><circle cx="550.2" cy="406.1" r="3.20"/><circle cx="550.8" cy="406.1" r="3.20"/><circle cx="551.4" cy="406.1" r="3.20"/><circle cx="552.0" cy="406.1" r="3.20"/><circle cx="552.6" cy="406.1" r="3.20"/><circle cx="553.2" cy="406.1" r="3.20"/><circle cx="552.8" cy="406.1" r="3.20"/><circle cx="553.4" cy="406.1" r="3.20"/><circle cx="554.0" cy="406.1" r="3.20"/><circle cx="556.2" cy="406.1" r="3.20"/><circle cx="556.8" cy="406.1" r="3.20"/><circle cx="557.4" cy="406.1" r="3.20"/><circle cx="560.9" cy="406.1" r="3.20"/><circle cx="561.5" cy="406.1" r="3.20"/><circle cx="562.1" cy="406.1" r="3.20"/><circle cx="564.0" cy="406.1" r="3.20"/><circle cx="564.6" cy="406.1" r="3.20"/><circle cx="565.2" cy="406.1" r="3.20"/><circle cx="566.8" cy="406.1" r="3.20"/><circle cx="567.4" cy="406.1" r="3.20"/><circle cx="568.0" cy="406.1" r="3.20"/><circle cx="569.1" cy="406.1" r="3.20"/><circle cx="569.7" cy="406.1" r="3.20"/><circle cx="570.3" cy="406.1" r="3.20"/><circle cx="572.9" cy="406.1" r="3.20"/><circle cx="573.5" cy="406.1" r="3.20"/><circle cx="576.8" cy="406.1" r="3.20"/>
</g>
<polygon fill="#ff0000" fill-opacity="0.15" points="332.9,424.8 339.1,425.3 345.4,425.7 351.6,426.1 357.9,426.4 364.1,426.7 370.4,427.0 376.6,427.2 382.9,427.3 389.1,427.4 395.4,427.5 401.6,427.5 407.9,427.4 414.1,427.3 420.4,427.2 426.6,427.0 432.9,426.7 439.1,426.4 445.4,426.1 451.6,425.7 457.9,425.2 464.1,424.7 470.4,424.2 476.6,423.5 482.9,422.9 489.1,422.2 495.4,421.4 501.6,420.6 507.9,419.7 514.1,418.7 520.4,417.7 526.6,416.7 532.9,415.6 539.1,414.4 545.4,413.2 551.6,411.9 557.9,410.6 564.1,409.2 570.4,407.8 576.6,406.3 576.6,431.1 570.4,430.2 564.1,429.5 557.9,428.9 551.6,428.4 545.4,428.1 539.1,427.8 532.9,427.7 526.6,427.7 520.4,427.8 514.1,428.0 507.9,428.3 501.6,428.6 495.4,429.1 489.1,429.7 482.9,430.4 476.6,431.1 470.4,431.9 464.1,432.8 457.9,433.8 451.6,434.9 445.4,436.0 439.1,437.2 432.9,438.4 426.6,439.7 420.4,441.1 414.1,442.5 407.9,444.0 401.6,445.5 395.4,447.0 389.1,448.6 382.9,450.2 376.6,451.9 370.4,453.6 364.1,455.3 357.9,457.0 351.6,458.8 345.4,460.6 339.1,462.4 332.9,464.2"/>
<line x1="332.9" y1="444.8" x2="577.9" y2="416.6" stroke="#f00505" stroke-width="2" stroke-linecap="square"/>
<rect x="321.6" y="394.1" width="268.4" height="265.5" fill="none" stroke="#555555" stroke-width="1.1"/>
<g stroke="#555555" stroke-width="0.9">
<line x1="364.1" y1="659.6" x2="364.1" y2="662.8"/><line x1="419.2" y1="659.6" x2="419.2" y2="662.8"/><line x1="474.4" y1="659.6" x2="474.4" y2="662.8"/><line x1="529.5" y1="659.6" x2="529.5" y2="662.8"/><line x1="584.6" y1="659.6" x2="584.6" y2="662.8"/><line x1="320.1" y1="647.5" x2="321.6" y2="647.5"/><line x1="320.1" y1="599.2" x2="321.6" y2="599.2"/><line x1="320.1" y1="550.9" x2="321.6" y2="550.9"/><line x1="320.1" y1="502.7" x2="321.6" y2="502.7"/><line x1="320.1" y1="454.4" x2="321.6" y2="454.4"/><line x1="320.1" y1="406.1" x2="321.6" y2="406.1"/>
</g>
<g class="k" text-anchor="middle">
<text x="364.1" y="673.7">0.2</text><text x="419.2" y="673.7">0.4</text><text x="474.4" y="673.7">0.6</text><text x="529.5" y="673.7">0.8</text><text x="584.6" y="673.7">1.0</text>
</g>
<text class="t" x="323.6" y="384.7">Summ-Consistency (Flan-T5)</text>
<text class="l" x="396.0" y="693.2">Predicted Score</text>
</g>
</svg>
</body></html>
